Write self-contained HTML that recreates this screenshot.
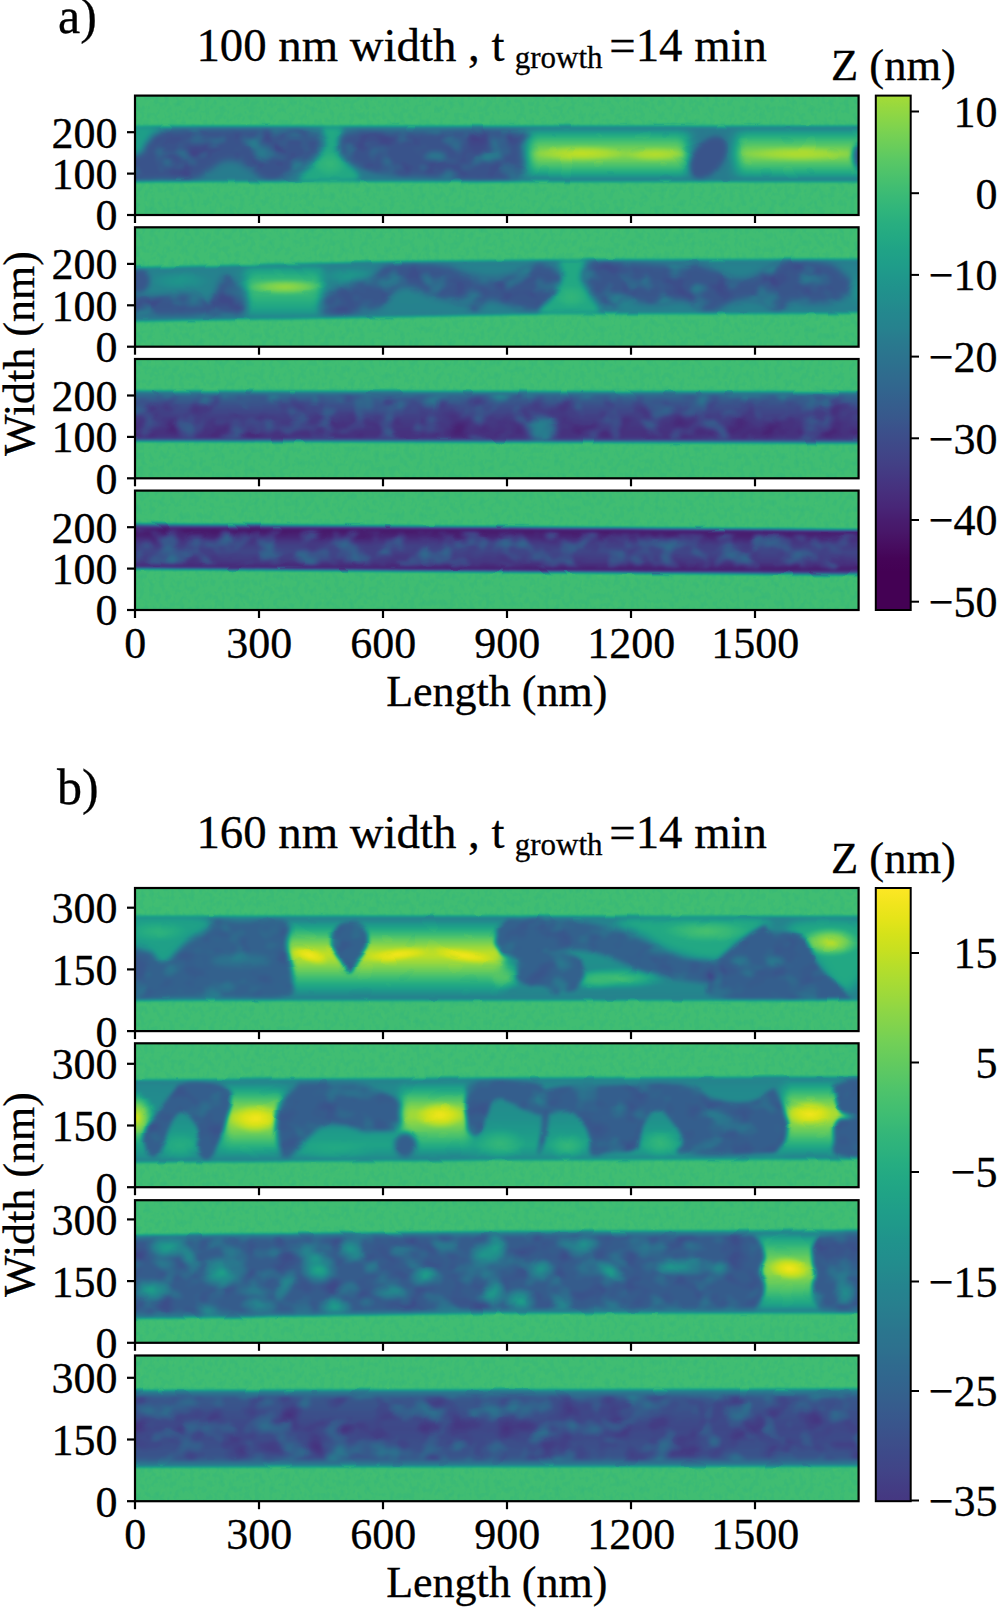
<!DOCTYPE html>
<html><head><meta charset="utf-8"><title>AFM nanowire figure</title>
<style>html,body{margin:0;padding:0;background:#fff}svg{display:block}text{font-family:'Liberation Serif','Times New Roman',serif;fill:#000;stroke:#000;stroke-width:0.3px}</style>
</head><body>
<svg width="1000" height="1611" viewBox="0 0 1000 1611">
<defs>
<filter id="vir" color-interpolation-filters="sRGB" x="-5%" y="-5%" width="110%" height="110%">
<feComponentTransfer><feFuncR type="table" tableValues="0.2670 0.2726 0.2770 0.2803 0.2823 0.2832 0.2829 0.2814 0.2788 0.2752 0.2706 0.2651 0.2590 0.2522 0.2450 0.2374 0.2278 0.2201 0.2124 0.2049 0.1976 0.1906 0.1839 0.1774 0.1712 0.1651 0.1592 0.1534 0.1476 0.1419 0.1364 0.1312 0.1254 0.1218 0.1197 0.1197 0.1223 0.1281 0.1373 0.1501 0.1664 0.1858 0.2080 0.2328 0.2599 0.2889 0.3198 0.3524 0.3952 0.4310 0.4681 0.5063 0.5455 0.5857 0.6266 0.6681 0.7099 0.7519 0.7938 0.8353 0.8762 0.9162 0.9553 0.9932"/><feFuncG type="table" tableValues="0.0049 0.0256 0.0503 0.0734 0.0950 0.1157 0.1359 0.1558 0.1755 0.1949 0.2141 0.2330 0.2515 0.2698 0.2877 0.3052 0.3266 0.3433 0.3597 0.3757 0.3915 0.4071 0.4224 0.4375 0.4525 0.4674 0.4822 0.4970 0.5117 0.5265 0.5412 0.5559 0.5743 0.5891 0.6038 0.6185 0.6332 0.6477 0.6623 0.6766 0.6909 0.7049 0.7187 0.7322 0.7455 0.7584 0.7709 0.7830 0.7975 0.8085 0.8189 0.8288 0.8380 0.8467 0.8546 0.8620 0.8688 0.8750 0.8807 0.8860 0.8911 0.8961 0.9011 0.9062"/><feFuncB type="table" tableValues="0.3294 0.3531 0.3757 0.3972 0.4173 0.4361 0.4534 0.4692 0.4834 0.4960 0.5071 0.5166 0.5247 0.5316 0.5373 0.5419 0.5465 0.5494 0.5517 0.5535 0.5550 0.5561 0.5569 0.5576 0.5580 0.5581 0.5581 0.5577 0.5570 0.5560 0.5545 0.5525 0.5491 0.5456 0.5414 0.5363 0.5304 0.5235 0.5156 0.5066 0.4965 0.4853 0.4729 0.4593 0.4445 0.4284 0.4112 0.3926 0.3678 0.3465 0.3240 0.3004 0.2756 0.2499 0.2234 0.1963 0.1693 0.1432 0.1200 0.1026 0.0953 0.1007 0.1181 0.1439"/></feComponentTransfer></filter>
<filter id="b0_7" color-interpolation-filters="sRGB" x="-50%" y="-50%" width="200%" height="200%"><feGaussianBlur stdDeviation="0.7"/></filter>
<filter id="b1" color-interpolation-filters="sRGB" x="-50%" y="-50%" width="200%" height="200%"><feGaussianBlur stdDeviation="1"/></filter>
<filter id="b1_5" color-interpolation-filters="sRGB" x="-50%" y="-50%" width="200%" height="200%"><feGaussianBlur stdDeviation="1.5"/></filter>
<filter id="b2" color-interpolation-filters="sRGB" x="-50%" y="-50%" width="200%" height="200%"><feGaussianBlur stdDeviation="2"/></filter>
<filter id="b3" color-interpolation-filters="sRGB" x="-50%" y="-50%" width="200%" height="200%"><feGaussianBlur stdDeviation="3"/></filter>
<filter id="b4" color-interpolation-filters="sRGB" x="-50%" y="-50%" width="200%" height="200%"><feGaussianBlur stdDeviation="4"/></filter>
<filter id="b6" color-interpolation-filters="sRGB" x="-50%" y="-50%" width="200%" height="200%"><feGaussianBlur stdDeviation="6"/></filter>
<filter id="b8" color-interpolation-filters="sRGB" x="-50%" y="-50%" width="200%" height="200%"><feGaussianBlur stdDeviation="8"/></filter>
<filter id="b12" color-interpolation-filters="sRGB" x="-50%" y="-50%" width="200%" height="200%"><feGaussianBlur stdDeviation="12"/></filter>
<filter id="bandf" color-interpolation-filters="sRGB" x="-2%" y="-20%" width="104%" height="140%"><feGaussianBlur stdDeviation="1.4" result="bl"/><feTurbulence type="fractalNoise" baseFrequency="0.045 0.07" numOctaves="1" seed="4" result="t"/><feDisplacementMap in="bl" in2="t" scale="3.2" xChannelSelector="R" yChannelSelector="G"/></filter>
<filter id="bx3" color-interpolation-filters="sRGB" x="-50%" y="-5%" width="200%" height="110%"><feGaussianBlur stdDeviation="3 0.6"/></filter>
<filter id="bx4" color-interpolation-filters="sRGB" x="-50%" y="-5%" width="200%" height="110%"><feGaussianBlur stdDeviation="4 0.6"/></filter>
<filter id="bx5" color-interpolation-filters="sRGB" x="-50%" y="-5%" width="200%" height="110%"><feGaussianBlur stdDeviation="5 0.6"/></filter>
<filter id="bx6" color-interpolation-filters="sRGB" x="-50%" y="-5%" width="200%" height="110%"><feGaussianBlur stdDeviation="6 0.6"/></filter>
<filter id="bx8" color-interpolation-filters="sRGB" x="-50%" y="-5%" width="200%" height="110%"><feGaussianBlur stdDeviation="8 0.6"/></filter>
<filter id="bx12" color-interpolation-filters="sRGB" x="-50%" y="-5%" width="200%" height="110%"><feGaussianBlur stdDeviation="12 0.6"/></filter>
<filter id="nDa" color-interpolation-filters="sRGB" x="0" y="0" width="1" height="1">
<feTurbulence type="fractalNoise" baseFrequency="0.045 0.055" numOctaves="2" seed="3" result="n"/>
<feColorMatrix in="n" type="matrix" values="0 0 0 0 0  0 0 0 0 0  0 0 0 0 0  0.6 0 0 0 -0.3" result="m"/>
<feComposite in="m" in2="SourceAlpha" operator="in"/></filter>
<filter id="nLa" color-interpolation-filters="sRGB" x="0" y="0" width="1" height="1">
<feTurbulence type="fractalNoise" baseFrequency="0.045 0.055" numOctaves="2" seed="11" result="n"/>
<feColorMatrix in="n" type="matrix" values="0 0 0 0 1  0 0 0 0 1  0 0 0 0 1  0 0.6 0 0 -0.3" result="m"/>
<feComposite in="m" in2="SourceAlpha" operator="in"/></filter>
<filter id="nDb" color-interpolation-filters="sRGB" x="0" y="0" width="1" height="1">
<feTurbulence type="fractalNoise" baseFrequency="0.04 0.05" numOctaves="2" seed="5" result="n"/>
<feColorMatrix in="n" type="matrix" values="0 0 0 0 0  0 0 0 0 0  0 0 0 0 0  0.5 0 0 0 -0.26" result="m"/>
<feComposite in="m" in2="SourceAlpha" operator="in"/></filter>
<filter id="nLb" color-interpolation-filters="sRGB" x="0" y="0" width="1" height="1">
<feTurbulence type="fractalNoise" baseFrequency="0.04 0.05" numOctaves="2" seed="17" result="n"/>
<feColorMatrix in="n" type="matrix" values="0 0 0 0 1  0 0 0 0 1  0 0 0 0 1  0 0.5 0 0 -0.27" result="m"/>
<feComposite in="m" in2="SourceAlpha" operator="in"/></filter>
<filter id="nDc" color-interpolation-filters="sRGB" x="0" y="0" width="1" height="1">
<feTurbulence type="fractalNoise" baseFrequency="0.045 0.055" numOctaves="2" seed="7" result="n"/>
<feColorMatrix in="n" type="matrix" values="0 0 0 0 0  0 0 0 0 0  0 0 0 0 0  1.1 0 0 0 -0.5" result="m"/>
<feComposite in="m" in2="SourceAlpha" operator="in"/></filter>
<filter id="nLc" color-interpolation-filters="sRGB" x="0" y="0" width="1" height="1">
<feTurbulence type="fractalNoise" baseFrequency="0.045 0.055" numOctaves="2" seed="19" result="n"/>
<feColorMatrix in="n" type="matrix" values="0 0 0 0 1  0 0 0 0 1  0 0 0 0 1  0 0.55 0 0 -0.27" result="m"/>
<feComposite in="m" in2="SourceAlpha" operator="in"/></filter>
<filter id="nDd" color-interpolation-filters="sRGB" x="0" y="0" width="1" height="1">
<feTurbulence type="fractalNoise" baseFrequency="0.04 0.05" numOctaves="2" seed="9" result="n"/>
<feColorMatrix in="n" type="matrix" values="0 0 0 0 0  0 0 0 0 0  0 0 0 0 0  0.7 0 0 0 -0.33" result="m"/>
<feComposite in="m" in2="SourceAlpha" operator="in"/></filter>
<filter id="nLd" color-interpolation-filters="sRGB" x="0" y="0" width="1" height="1">
<feTurbulence type="fractalNoise" baseFrequency="0.04 0.05" numOctaves="2" seed="23" result="n"/>
<feColorMatrix in="n" type="matrix" values="0 0 0 0 1  0 0 0 0 1  0 0 0 0 1  0 0.6 0 0 -0.29" result="m"/>
<feComposite in="m" in2="SourceAlpha" operator="in"/></filter>
<filter id="nDf" color-interpolation-filters="sRGB" x="0" y="0" width="1" height="1">
<feTurbulence type="fractalNoise" baseFrequency="0.05 0.06" numOctaves="2" seed="21" result="n"/>
<feColorMatrix in="n" type="matrix" values="0 0 0 0 0  0 0 0 0 0  0 0 0 0 0  0.6 0 0 0 -0.3" result="m"/>
<feComposite in="m" in2="SourceAlpha" operator="in"/></filter>
<filter id="nLf" color-interpolation-filters="sRGB" x="0" y="0" width="1" height="1">
<feTurbulence type="fractalNoise" baseFrequency="0.05 0.06" numOctaves="2" seed="31" result="n"/>
<feColorMatrix in="n" type="matrix" values="0 0 0 0 1  0 0 0 0 1  0 0 0 0 1  0 0.55 0 0 -0.25" result="m"/>
<feComposite in="m" in2="SourceAlpha" operator="in"/></filter>
<filter id="nDe" color-interpolation-filters="sRGB" x="0" y="0" width="1" height="1">
<feTurbulence type="fractalNoise" baseFrequency="0.04 0.05" numOctaves="2" seed="13" result="n"/>
<feColorMatrix in="n" type="matrix" values="0 0 0 0 0  0 0 0 0 0  0 0 0 0 0  1.0 0 0 0 -0.46" result="m"/>
<feComposite in="m" in2="SourceAlpha" operator="in"/></filter>
<filter id="nLe" color-interpolation-filters="sRGB" x="0" y="0" width="1" height="1">
<feTurbulence type="fractalNoise" baseFrequency="0.04 0.05" numOctaves="2" seed="29" result="n"/>
<feColorMatrix in="n" type="matrix" values="0 0 0 0 1  0 0 0 0 1  0 0 0 0 1  0 0.6 0 0 -0.3" result="m"/>
<feComposite in="m" in2="SourceAlpha" operator="in"/></filter>
<filter id="nF" color-interpolation-filters="sRGB" x="0" y="0" width="1" height="1">
<feTurbulence type="fractalNoise" baseFrequency="0.2 0.15" numOctaves="2" seed="7" result="n"/>
<feColorMatrix in="n" type="matrix" values="0 0 0 0 1  0 0 0 0 1  0 0 0 0 1  0.06 0 0 0 -0.027" result="m"/>
<feComposite in="m" in2="SourceAlpha" operator="in"/></filter>
<filter id="nFd" color-interpolation-filters="sRGB" x="0" y="0" width="1" height="1">
<feTurbulence type="fractalNoise" baseFrequency="0.2 0.15" numOctaves="2" seed="9" result="n"/>
<feColorMatrix in="n" type="matrix" values="0 0 0 0 0  0 0 0 0 0  0 0 0 0 0  0 0.06 0 0 -0.027" result="m"/>
<feComposite in="m" in2="SourceAlpha" operator="in"/></filter>
<radialGradient id="g1"><stop offset="0" stop-color="rgb(173,173,173)" stop-opacity="0.9"/><stop offset="0.5" stop-color="rgb(173,173,173)" stop-opacity="0.54"/><stop offset="1" stop-color="rgb(173,173,173)" stop-opacity="0"/></radialGradient>
<linearGradient id="g2" x1="0" y1="0" x2="0" y2="1"><stop offset="0.0" stop-color="rgb(110,110,110)"/><stop offset="0.05" stop-color="rgb(119,119,119)"/><stop offset="0.15" stop-color="rgb(152,152,152)"/><stop offset="0.275" stop-color="rgb(180,180,180)"/><stop offset="0.39" stop-color="rgb(198,198,198)"/><stop offset="0.46" stop-color="rgb(207,207,207)"/><stop offset="0.5" stop-color="rgb(209,209,209)"/><stop offset="0.54" stop-color="rgb(207,207,207)"/><stop offset="0.61" stop-color="rgb(198,198,198)"/><stop offset="0.725" stop-color="rgb(180,180,180)"/><stop offset="0.85" stop-color="rgb(152,152,152)"/><stop offset="0.95" stop-color="rgb(119,119,119)"/><stop offset="1.0" stop-color="rgb(110,110,110)"/></linearGradient>
<radialGradient id="g3"><stop offset="0" stop-color="rgb(237,237,237)" stop-opacity="0.85"/><stop offset="0.5" stop-color="rgb(237,237,237)" stop-opacity="0.51"/><stop offset="1" stop-color="rgb(237,237,237)" stop-opacity="0"/></radialGradient>
<radialGradient id="g4"><stop offset="0" stop-color="rgb(232,232,232)" stop-opacity="0.8"/><stop offset="0.5" stop-color="rgb(232,232,232)" stop-opacity="0.48"/><stop offset="1" stop-color="rgb(232,232,232)" stop-opacity="0"/></radialGradient>
<linearGradient id="g5" x1="0" y1="0" x2="0" y2="1"><stop offset="0.0" stop-color="rgb(110,110,110)"/><stop offset="0.05" stop-color="rgb(119,119,119)"/><stop offset="0.15" stop-color="rgb(151,151,151)"/><stop offset="0.275" stop-color="rgb(178,178,178)"/><stop offset="0.39" stop-color="rgb(196,196,196)"/><stop offset="0.46" stop-color="rgb(204,204,204)"/><stop offset="0.5" stop-color="rgb(207,207,207)"/><stop offset="0.54" stop-color="rgb(204,204,204)"/><stop offset="0.61" stop-color="rgb(196,196,196)"/><stop offset="0.725" stop-color="rgb(178,178,178)"/><stop offset="0.85" stop-color="rgb(151,151,151)"/><stop offset="0.95" stop-color="rgb(119,119,119)"/><stop offset="1.0" stop-color="rgb(110,110,110)"/></linearGradient>
<radialGradient id="g6"><stop offset="0" stop-color="rgb(230,230,230)" stop-opacity="0.85"/><stop offset="0.5" stop-color="rgb(230,230,230)" stop-opacity="0.51"/><stop offset="1" stop-color="rgb(230,230,230)" stop-opacity="0"/></radialGradient>
<clipPath id="cpa1"><rect x="135.0" y="95.6" width="723.6" height="119.4"/></clipPath>
<clipPath id="bca1"><polygon points="115.0,126.2 878.6,126.2 878.6,181.5 115.0,181.5"/></clipPath>
<linearGradient id="g7" x1="0" y1="0" x2="0" y2="1"><stop offset="0" stop-color="rgb(107,107,107)"/><stop offset="0.15" stop-color="rgb(105,105,105)"/><stop offset="0.5" stop-color="rgb(107,107,107)"/><stop offset="0.85" stop-color="rgb(107,107,107)"/><stop offset="1" stop-color="rgb(107,107,107)"/></linearGradient>
<radialGradient id="g8"><stop offset="0" stop-color="rgb(140,140,140)" stop-opacity="0.8"/><stop offset="0.5" stop-color="rgb(140,140,140)" stop-opacity="0.48"/><stop offset="1" stop-color="rgb(140,140,140)" stop-opacity="0"/></radialGradient>
<radialGradient id="g9"><stop offset="0" stop-color="rgb(143,143,143)" stop-opacity="0.8"/><stop offset="0.5" stop-color="rgb(143,143,143)" stop-opacity="0.48"/><stop offset="1" stop-color="rgb(143,143,143)" stop-opacity="0"/></radialGradient>
<linearGradient id="g10" x1="0" y1="0" x2="0" y2="1"><stop offset="0.0" stop-color="rgb(115,115,115)"/><stop offset="0.04" stop-color="rgb(122,122,122)"/><stop offset="0.12" stop-color="rgb(144,144,144)"/><stop offset="0.22" stop-color="rgb(161,161,161)"/><stop offset="0.312" stop-color="rgb(172,172,172)"/><stop offset="0.368" stop-color="rgb(177,177,177)"/><stop offset="0.4" stop-color="rgb(178,178,178)"/><stop offset="0.448" stop-color="rgb(177,177,177)"/><stop offset="0.532" stop-color="rgb(172,172,172)"/><stop offset="0.67" stop-color="rgb(161,161,161)"/><stop offset="0.82" stop-color="rgb(144,144,144)"/><stop offset="0.94" stop-color="rgb(122,122,122)"/><stop offset="1.0" stop-color="rgb(115,115,115)"/></linearGradient>
<radialGradient id="g11"><stop offset="0" stop-color="rgb(224,224,224)" stop-opacity="0.85"/><stop offset="0.5" stop-color="rgb(224,224,224)" stop-opacity="0.51"/><stop offset="1" stop-color="rgb(224,224,224)" stop-opacity="0"/></radialGradient>
<radialGradient id="g12"><stop offset="0" stop-color="rgb(171,171,171)" stop-opacity="0.9"/><stop offset="0.5" stop-color="rgb(171,171,171)" stop-opacity="0.54"/><stop offset="1" stop-color="rgb(171,171,171)" stop-opacity="0"/></radialGradient>
<radialGradient id="g13"><stop offset="0" stop-color="rgb(133,133,133)" stop-opacity="0.8"/><stop offset="0.5" stop-color="rgb(133,133,133)" stop-opacity="0.48"/><stop offset="1" stop-color="rgb(133,133,133)" stop-opacity="0"/></radialGradient>
<clipPath id="cpa2"><rect x="135.0" y="227.3" width="723.6" height="119.39999999999998"/></clipPath>
<clipPath id="bca2"><polygon points="115.0,268.0 380.0,262.0 560.0,259.7 878.6,259.3 878.6,313.2 560.0,313.8 380.0,317.0 115.0,321.5"/></clipPath>
<linearGradient id="g14" x1="0" y1="0" x2="0" y2="1"><stop offset="0" stop-color="rgb(110,110,110)"/><stop offset="0.15" stop-color="rgb(112,112,112)"/><stop offset="0.5" stop-color="rgb(115,115,115)"/><stop offset="0.85" stop-color="rgb(112,112,112)"/><stop offset="1" stop-color="rgb(110,110,110)"/></linearGradient>
<clipPath id="cpa3"><rect x="135.0" y="359.0" width="723.6" height="119.30000000000001"/></clipPath>
<clipPath id="bca3"><polygon points="115.0,391.0 878.6,392.0 878.6,443.0 115.0,441.0"/></clipPath>
<linearGradient id="g15" x1="0" y1="0" x2="0" y2="1"><stop offset="0" stop-color="rgb(102,102,102)"/><stop offset="0.1" stop-color="rgb(84,84,84)"/><stop offset="0.25" stop-color="rgb(64,64,64)"/><stop offset="0.5" stop-color="rgb(48,48,48)"/><stop offset="0.8" stop-color="rgb(36,36,36)"/><stop offset="0.93" stop-color="rgb(41,41,41)"/><stop offset="1" stop-color="rgb(87,87,87)"/></linearGradient>
<clipPath id="cpa4"><rect x="135.0" y="490.6" width="723.6" height="119.39999999999998"/></clipPath>
<clipPath id="bca4"><polygon points="115.0,524.0 878.6,530.0 878.6,575.0 115.0,568.5"/></clipPath>
<linearGradient id="g16" x1="0" y1="0" x2="0" y2="1"><stop offset="0" stop-color="rgb(76,76,76)"/><stop offset="0.1" stop-color="rgb(15,15,15)"/><stop offset="0.22" stop-color="rgb(23,23,23)"/><stop offset="0.4" stop-color="rgb(48,48,48)"/><stop offset="0.55" stop-color="rgb(54,54,54)"/><stop offset="0.75" stop-color="rgb(41,41,41)"/><stop offset="0.9" stop-color="rgb(18,18,18)"/><stop offset="1" stop-color="rgb(71,71,71)"/></linearGradient>
<linearGradient id="g17" x1="0" y1="0" x2="0" y2="1"><stop offset="0.0" stop-color="rgb(112,112,112)"/><stop offset="0.045" stop-color="rgb(117,117,117)"/><stop offset="0.135" stop-color="rgb(149,149,149)"/><stop offset="0.2475" stop-color="rgb(185,185,185)"/><stop offset="0.351" stop-color="rgb(212,212,212)"/><stop offset="0.414" stop-color="rgb(226,226,226)"/><stop offset="0.45" stop-color="rgb(230,230,230)"/><stop offset="0.494" stop-color="rgb(226,226,226)"/><stop offset="0.571" stop-color="rgb(212,212,212)"/><stop offset="0.6975" stop-color="rgb(185,185,185)"/><stop offset="0.835" stop-color="rgb(149,149,149)"/><stop offset="0.945" stop-color="rgb(117,117,117)"/><stop offset="1.0" stop-color="rgb(112,112,112)"/></linearGradient>
<radialGradient id="g18"><stop offset="0" stop-color="rgb(255,255,255)" stop-opacity="0.9"/><stop offset="0.5" stop-color="rgb(255,255,255)" stop-opacity="0.54"/><stop offset="1" stop-color="rgb(255,255,255)" stop-opacity="0"/></radialGradient>
<radialGradient id="g19"><stop offset="0" stop-color="rgb(255,255,255)" stop-opacity="0.9"/><stop offset="0.5" stop-color="rgb(255,255,255)" stop-opacity="0.54"/><stop offset="1" stop-color="rgb(255,255,255)" stop-opacity="0"/></radialGradient>
<radialGradient id="g20"><stop offset="0" stop-color="rgb(255,255,255)" stop-opacity="0.9"/><stop offset="0.5" stop-color="rgb(255,255,255)" stop-opacity="0.54"/><stop offset="1" stop-color="rgb(255,255,255)" stop-opacity="0"/></radialGradient>
<radialGradient id="g21"><stop offset="0" stop-color="rgb(194,194,194)" stop-opacity="0.9"/><stop offset="0.5" stop-color="rgb(194,194,194)" stop-opacity="0.54"/><stop offset="1" stop-color="rgb(194,194,194)" stop-opacity="0"/></radialGradient>
<radialGradient id="g22"><stop offset="0" stop-color="rgb(168,168,168)" stop-opacity="0.9"/><stop offset="0.5" stop-color="rgb(168,168,168)" stop-opacity="0.54"/><stop offset="1" stop-color="rgb(168,168,168)" stop-opacity="0"/></radialGradient>
<radialGradient id="g23"><stop offset="0" stop-color="rgb(189,189,189)" stop-opacity="0.9"/><stop offset="0.5" stop-color="rgb(189,189,189)" stop-opacity="0.54"/><stop offset="1" stop-color="rgb(189,189,189)" stop-opacity="0"/></radialGradient>
<radialGradient id="g24"><stop offset="0" stop-color="rgb(178,178,178)" stop-opacity="0.9"/><stop offset="0.5" stop-color="rgb(178,178,178)" stop-opacity="0.54"/><stop offset="1" stop-color="rgb(178,178,178)" stop-opacity="0"/></radialGradient>
<radialGradient id="g25"><stop offset="0" stop-color="rgb(184,184,184)" stop-opacity="0.95"/><stop offset="0.5" stop-color="rgb(184,184,184)" stop-opacity="0.57"/><stop offset="1" stop-color="rgb(184,184,184)" stop-opacity="0"/></radialGradient>
<radialGradient id="g26"><stop offset="0" stop-color="rgb(235,235,235)" stop-opacity="0.95"/><stop offset="0.5" stop-color="rgb(235,235,235)" stop-opacity="0.57"/><stop offset="1" stop-color="rgb(235,235,235)" stop-opacity="0"/></radialGradient>
<clipPath id="cpb1"><rect x="135.0" y="888.0" width="723.6" height="143.0999999999999"/></clipPath>
<clipPath id="bcb1"><polygon points="115.0,916.3 878.6,916.3 878.6,1000.3 115.0,1000.3"/></clipPath>
<linearGradient id="g27" x1="0" y1="0" x2="0" y2="1"><stop offset="0" stop-color="rgb(112,112,112)"/><stop offset="0.12" stop-color="rgb(117,117,117)"/><stop offset="0.5" stop-color="rgb(128,128,128)"/><stop offset="0.88" stop-color="rgb(117,117,117)"/><stop offset="1" stop-color="rgb(112,112,112)"/></linearGradient>
<radialGradient id="g28"><stop offset="0" stop-color="rgb(250,250,250)" stop-opacity="0.95"/><stop offset="0.5" stop-color="rgb(250,250,250)" stop-opacity="0.57"/><stop offset="1" stop-color="rgb(250,250,250)" stop-opacity="0"/></radialGradient>
<linearGradient id="g29" x1="0" y1="0" x2="0" y2="1"><stop offset="0.0" stop-color="rgb(115,115,115)"/><stop offset="0.046" stop-color="rgb(122,122,122)"/><stop offset="0.138" stop-color="rgb(155,155,155)"/><stop offset="0.253" stop-color="rgb(188,188,188)"/><stop offset="0.3588" stop-color="rgb(210,210,210)"/><stop offset="0.4232" stop-color="rgb(222,222,222)"/><stop offset="0.46" stop-color="rgb(224,224,224)"/><stop offset="0.5032" stop-color="rgb(222,222,222)"/><stop offset="0.5788" stop-color="rgb(210,210,210)"/><stop offset="0.703" stop-color="rgb(188,188,188)"/><stop offset="0.838" stop-color="rgb(155,155,155)"/><stop offset="0.946" stop-color="rgb(122,122,122)"/><stop offset="1.0" stop-color="rgb(115,115,115)"/></linearGradient>
<radialGradient id="g30"><stop offset="0" stop-color="rgb(255,255,255)" stop-opacity="0.9"/><stop offset="0.5" stop-color="rgb(255,255,255)" stop-opacity="0.54"/><stop offset="1" stop-color="rgb(255,255,255)" stop-opacity="0"/></radialGradient>
<linearGradient id="g31" x1="0" y1="0" x2="0" y2="1"><stop offset="0.0" stop-color="rgb(115,115,115)"/><stop offset="0.043" stop-color="rgb(121,121,121)"/><stop offset="0.129" stop-color="rgb(153,153,153)"/><stop offset="0.2365" stop-color="rgb(184,184,184)"/><stop offset="0.3354" stop-color="rgb(206,206,206)"/><stop offset="0.3956" stop-color="rgb(217,217,217)"/><stop offset="0.43" stop-color="rgb(219,219,219)"/><stop offset="0.4756" stop-color="rgb(217,217,217)"/><stop offset="0.5554" stop-color="rgb(206,206,206)"/><stop offset="0.6865" stop-color="rgb(184,184,184)"/><stop offset="0.829" stop-color="rgb(153,153,153)"/><stop offset="0.943" stop-color="rgb(121,121,121)"/><stop offset="1.0" stop-color="rgb(115,115,115)"/></linearGradient>
<radialGradient id="g32"><stop offset="0" stop-color="rgb(255,255,255)" stop-opacity="0.9"/><stop offset="0.5" stop-color="rgb(255,255,255)" stop-opacity="0.54"/><stop offset="1" stop-color="rgb(255,255,255)" stop-opacity="0"/></radialGradient>
<linearGradient id="g33" x1="0" y1="0" x2="0" y2="1"><stop offset="0.0" stop-color="rgb(115,115,115)"/><stop offset="0.044" stop-color="rgb(122,122,122)"/><stop offset="0.132" stop-color="rgb(155,155,155)"/><stop offset="0.242" stop-color="rgb(188,188,188)"/><stop offset="0.3432" stop-color="rgb(210,210,210)"/><stop offset="0.4048" stop-color="rgb(222,222,222)"/><stop offset="0.44" stop-color="rgb(224,224,224)"/><stop offset="0.4848" stop-color="rgb(222,222,222)"/><stop offset="0.5632" stop-color="rgb(210,210,210)"/><stop offset="0.692" stop-color="rgb(188,188,188)"/><stop offset="0.832" stop-color="rgb(155,155,155)"/><stop offset="0.944" stop-color="rgb(122,122,122)"/><stop offset="1.0" stop-color="rgb(115,115,115)"/></linearGradient>
<radialGradient id="g34"><stop offset="0" stop-color="rgb(255,255,255)" stop-opacity="0.9"/><stop offset="0.5" stop-color="rgb(255,255,255)" stop-opacity="0.54"/><stop offset="1" stop-color="rgb(255,255,255)" stop-opacity="0"/></radialGradient>
<radialGradient id="g35"><stop offset="0" stop-color="rgb(163,163,163)" stop-opacity="0.8"/><stop offset="0.5" stop-color="rgb(163,163,163)" stop-opacity="0.48"/><stop offset="1" stop-color="rgb(163,163,163)" stop-opacity="0"/></radialGradient>
<radialGradient id="g36"><stop offset="0" stop-color="rgb(158,158,158)" stop-opacity="0.8"/><stop offset="0.5" stop-color="rgb(158,158,158)" stop-opacity="0.48"/><stop offset="1" stop-color="rgb(158,158,158)" stop-opacity="0"/></radialGradient>
<radialGradient id="g37"><stop offset="0" stop-color="rgb(173,173,173)" stop-opacity="0.9"/><stop offset="0.5" stop-color="rgb(173,173,173)" stop-opacity="0.54"/><stop offset="1" stop-color="rgb(173,173,173)" stop-opacity="0"/></radialGradient>
<radialGradient id="g38"><stop offset="0" stop-color="rgb(173,173,173)" stop-opacity="0.9"/><stop offset="0.5" stop-color="rgb(173,173,173)" stop-opacity="0.54"/><stop offset="1" stop-color="rgb(173,173,173)" stop-opacity="0"/></radialGradient>
<radialGradient id="g39"><stop offset="0" stop-color="rgb(173,173,173)" stop-opacity="0.9"/><stop offset="0.5" stop-color="rgb(173,173,173)" stop-opacity="0.54"/><stop offset="1" stop-color="rgb(173,173,173)" stop-opacity="0"/></radialGradient>
<clipPath id="cpb2"><rect x="135.0" y="1043.3" width="723.6" height="143.9000000000001"/></clipPath>
<clipPath id="bcb2"><polygon points="115.0,1080.0 500.0,1078.0 878.6,1077.0 878.6,1159.0 500.0,1160.0 115.0,1162.3"/></clipPath>
<linearGradient id="g40" x1="0" y1="0" x2="0" y2="1"><stop offset="0" stop-color="rgb(112,112,112)"/><stop offset="0.12" stop-color="rgb(120,120,120)"/><stop offset="0.5" stop-color="rgb(128,128,128)"/><stop offset="0.8" stop-color="rgb(148,148,148)"/><stop offset="0.93" stop-color="rgb(128,128,128)"/><stop offset="1" stop-color="rgb(112,112,112)"/></linearGradient>
<linearGradient id="g41" x1="0" y1="0" x2="0" y2="1"><stop offset="0.0" stop-color="rgb(115,115,115)"/><stop offset="0.047" stop-color="rgb(123,123,123)"/><stop offset="0.141" stop-color="rgb(154,154,154)"/><stop offset="0.2585" stop-color="rgb(183,183,183)"/><stop offset="0.3666" stop-color="rgb(202,202,202)"/><stop offset="0.4324" stop-color="rgb(212,212,212)"/><stop offset="0.47" stop-color="rgb(214,214,214)"/><stop offset="0.5124" stop-color="rgb(212,212,212)"/><stop offset="0.5866" stop-color="rgb(202,202,202)"/><stop offset="0.7085" stop-color="rgb(183,183,183)"/><stop offset="0.841" stop-color="rgb(154,154,154)"/><stop offset="0.947" stop-color="rgb(123,123,123)"/><stop offset="1.0" stop-color="rgb(115,115,115)"/></linearGradient>
<radialGradient id="g42"><stop offset="0" stop-color="rgb(255,255,255)" stop-opacity="0.95"/><stop offset="0.5" stop-color="rgb(255,255,255)" stop-opacity="0.57"/><stop offset="1" stop-color="rgb(255,255,255)" stop-opacity="0"/></radialGradient>
<radialGradient id="g43"><stop offset="0" stop-color="rgb(145,145,145)" stop-opacity="0.97"/><stop offset="0.5" stop-color="rgb(145,145,145)" stop-opacity="0.582"/><stop offset="1" stop-color="rgb(145,145,145)" stop-opacity="0"/></radialGradient>
<radialGradient id="g44"><stop offset="0" stop-color="rgb(153,153,153)" stop-opacity="0.97"/><stop offset="0.5" stop-color="rgb(153,153,153)" stop-opacity="0.582"/><stop offset="1" stop-color="rgb(153,153,153)" stop-opacity="0"/></radialGradient>
<radialGradient id="g45"><stop offset="0" stop-color="rgb(145,145,145)" stop-opacity="0.97"/><stop offset="0.5" stop-color="rgb(145,145,145)" stop-opacity="0.582"/><stop offset="1" stop-color="rgb(145,145,145)" stop-opacity="0"/></radialGradient>
<radialGradient id="g46"><stop offset="0" stop-color="rgb(150,150,150)" stop-opacity="0.97"/><stop offset="0.5" stop-color="rgb(150,150,150)" stop-opacity="0.582"/><stop offset="1" stop-color="rgb(150,150,150)" stop-opacity="0"/></radialGradient>
<radialGradient id="g47"><stop offset="0" stop-color="rgb(140,140,140)" stop-opacity="0.97"/><stop offset="0.5" stop-color="rgb(140,140,140)" stop-opacity="0.582"/><stop offset="1" stop-color="rgb(140,140,140)" stop-opacity="0"/></radialGradient>
<radialGradient id="g48"><stop offset="0" stop-color="rgb(145,145,145)" stop-opacity="0.97"/><stop offset="0.5" stop-color="rgb(145,145,145)" stop-opacity="0.582"/><stop offset="1" stop-color="rgb(145,145,145)" stop-opacity="0"/></radialGradient>
<radialGradient id="g49"><stop offset="0" stop-color="rgb(145,145,145)" stop-opacity="0.97"/><stop offset="0.5" stop-color="rgb(145,145,145)" stop-opacity="0.582"/><stop offset="1" stop-color="rgb(145,145,145)" stop-opacity="0"/></radialGradient>
<radialGradient id="g50"><stop offset="0" stop-color="rgb(135,135,135)" stop-opacity="0.97"/><stop offset="0.5" stop-color="rgb(135,135,135)" stop-opacity="0.582"/><stop offset="1" stop-color="rgb(135,135,135)" stop-opacity="0"/></radialGradient>
<radialGradient id="g51"><stop offset="0" stop-color="rgb(140,140,140)" stop-opacity="0.97"/><stop offset="0.5" stop-color="rgb(140,140,140)" stop-opacity="0.582"/><stop offset="1" stop-color="rgb(140,140,140)" stop-opacity="0"/></radialGradient>
<radialGradient id="g52"><stop offset="0" stop-color="rgb(140,140,140)" stop-opacity="0.97"/><stop offset="0.5" stop-color="rgb(140,140,140)" stop-opacity="0.582"/><stop offset="1" stop-color="rgb(140,140,140)" stop-opacity="0"/></radialGradient>
<radialGradient id="g53"><stop offset="0" stop-color="rgb(128,128,128)" stop-opacity="0.82"/><stop offset="0.5" stop-color="rgb(128,128,128)" stop-opacity="0.49199999999999994"/><stop offset="1" stop-color="rgb(128,128,128)" stop-opacity="0"/></radialGradient>
<radialGradient id="g54"><stop offset="0" stop-color="rgb(128,128,128)" stop-opacity="0.82"/><stop offset="0.5" stop-color="rgb(128,128,128)" stop-opacity="0.49199999999999994"/><stop offset="1" stop-color="rgb(128,128,128)" stop-opacity="0"/></radialGradient>
<radialGradient id="g55"><stop offset="0" stop-color="rgb(128,128,128)" stop-opacity="0.82"/><stop offset="0.5" stop-color="rgb(128,128,128)" stop-opacity="0.49199999999999994"/><stop offset="1" stop-color="rgb(128,128,128)" stop-opacity="0"/></radialGradient>
<radialGradient id="g56"><stop offset="0" stop-color="rgb(145,145,145)" stop-opacity="0.97"/><stop offset="0.5" stop-color="rgb(145,145,145)" stop-opacity="0.582"/><stop offset="1" stop-color="rgb(145,145,145)" stop-opacity="0"/></radialGradient>
<radialGradient id="g57"><stop offset="0" stop-color="rgb(145,145,145)" stop-opacity="0.97"/><stop offset="0.5" stop-color="rgb(145,145,145)" stop-opacity="0.582"/><stop offset="1" stop-color="rgb(145,145,145)" stop-opacity="0"/></radialGradient>
<radialGradient id="g58"><stop offset="0" stop-color="rgb(135,135,135)" stop-opacity="0.97"/><stop offset="0.5" stop-color="rgb(135,135,135)" stop-opacity="0.582"/><stop offset="1" stop-color="rgb(135,135,135)" stop-opacity="0"/></radialGradient>
<radialGradient id="g59"><stop offset="0" stop-color="rgb(130,130,130)" stop-opacity="0.92"/><stop offset="0.5" stop-color="rgb(130,130,130)" stop-opacity="0.552"/><stop offset="1" stop-color="rgb(130,130,130)" stop-opacity="0"/></radialGradient>
<radialGradient id="g60"><stop offset="0" stop-color="rgb(135,135,135)" stop-opacity="0.92"/><stop offset="0.5" stop-color="rgb(135,135,135)" stop-opacity="0.552"/><stop offset="1" stop-color="rgb(135,135,135)" stop-opacity="0"/></radialGradient>
<radialGradient id="g61"><stop offset="0" stop-color="rgb(128,128,128)" stop-opacity="0.82"/><stop offset="0.5" stop-color="rgb(128,128,128)" stop-opacity="0.49199999999999994"/><stop offset="1" stop-color="rgb(128,128,128)" stop-opacity="0"/></radialGradient>
<radialGradient id="g62"><stop offset="0" stop-color="rgb(133,133,133)" stop-opacity="0.92"/><stop offset="0.5" stop-color="rgb(133,133,133)" stop-opacity="0.552"/><stop offset="1" stop-color="rgb(133,133,133)" stop-opacity="0"/></radialGradient>
<clipPath id="cpb3"><rect x="135.0" y="1200.2" width="723.6" height="142.5999999999999"/></clipPath>
<clipPath id="bcb3"><polygon points="115.0,1236.0 500.0,1231.4 878.6,1230.5 878.6,1313.0 500.0,1313.0 115.0,1318.5"/></clipPath>
<linearGradient id="g63" x1="0" y1="0" x2="0" y2="1"><stop offset="0" stop-color="rgb(112,112,112)"/><stop offset="0.13" stop-color="rgb(102,102,102)"/><stop offset="0.5" stop-color="rgb(102,102,102)"/><stop offset="0.87" stop-color="rgb(102,102,102)"/><stop offset="1" stop-color="rgb(112,112,112)"/></linearGradient>
<clipPath id="cpb4"><rect x="135.0" y="1355.5" width="723.6" height="145.70000000000005"/></clipPath>
<clipPath id="bcb4"><polygon points="115.0,1390.5 878.6,1389.0 878.6,1466.0 115.0,1467.0"/></clipPath>
<linearGradient id="g64" x1="0" y1="0" x2="0" y2="1"><stop offset="0" stop-color="rgb(107,107,107)"/><stop offset="0.13" stop-color="rgb(69,69,69)"/><stop offset="0.5" stop-color="rgb(55,55,55)"/><stop offset="0.87" stop-color="rgb(66,66,66)"/><stop offset="1" stop-color="rgb(107,107,107)"/></linearGradient>
<linearGradient id="g65" x1="0" y1="0" x2="0" y2="1"><stop offset="0.0000" stop-color="#a5db36"/><stop offset="0.0250" stop-color="#95d840"/><stop offset="0.0500" stop-color="#86d549"/><stop offset="0.0750" stop-color="#77d153"/><stop offset="0.1000" stop-color="#69cd5b"/><stop offset="0.1250" stop-color="#5ac864"/><stop offset="0.1500" stop-color="#4ec36b"/><stop offset="0.1750" stop-color="#42be71"/><stop offset="0.2000" stop-color="#38b977"/><stop offset="0.2250" stop-color="#2fb47c"/><stop offset="0.2500" stop-color="#28ae80"/><stop offset="0.2750" stop-color="#23a983"/><stop offset="0.3000" stop-color="#20a386"/><stop offset="0.3250" stop-color="#1f9e89"/><stop offset="0.3500" stop-color="#1f988b"/><stop offset="0.3750" stop-color="#20928c"/><stop offset="0.4000" stop-color="#228d8d"/><stop offset="0.4250" stop-color="#24878e"/><stop offset="0.4500" stop-color="#26828e"/><stop offset="0.4750" stop-color="#297b8e"/><stop offset="0.5000" stop-color="#2b758e"/><stop offset="0.5250" stop-color="#2d708e"/><stop offset="0.5500" stop-color="#306a8e"/><stop offset="0.5750" stop-color="#32648e"/><stop offset="0.6000" stop-color="#355e8d"/><stop offset="0.6250" stop-color="#38588c"/><stop offset="0.6500" stop-color="#3b518b"/><stop offset="0.6750" stop-color="#3e4a89"/><stop offset="0.7000" stop-color="#414487"/><stop offset="0.7250" stop-color="#433d84"/><stop offset="0.7500" stop-color="#453581"/><stop offset="0.7750" stop-color="#472e7c"/><stop offset="0.8000" stop-color="#482677"/><stop offset="0.8250" stop-color="#481d6f"/><stop offset="0.8500" stop-color="#481668"/><stop offset="0.8750" stop-color="#470d60"/><stop offset="0.9000" stop-color="#450457"/><stop offset="0.9250" stop-color="#440154"/><stop offset="0.9500" stop-color="#440154"/><stop offset="0.9750" stop-color="#440154"/><stop offset="1.0000" stop-color="#440154"/></linearGradient>
<linearGradient id="g66" x1="0" y1="0" x2="0" y2="1"><stop offset="0.0000" stop-color="#fde725"/><stop offset="0.0250" stop-color="#f1e51d"/><stop offset="0.0500" stop-color="#e5e419"/><stop offset="0.0750" stop-color="#d5e21a"/><stop offset="0.1000" stop-color="#c8e020"/><stop offset="0.1250" stop-color="#b8de29"/><stop offset="0.1500" stop-color="#aadc32"/><stop offset="0.1750" stop-color="#9dd93b"/><stop offset="0.2000" stop-color="#8ed645"/><stop offset="0.2250" stop-color="#81d34d"/><stop offset="0.2500" stop-color="#73d056"/><stop offset="0.2750" stop-color="#67cc5c"/><stop offset="0.3000" stop-color="#5cc863"/><stop offset="0.3250" stop-color="#50c46a"/><stop offset="0.3500" stop-color="#46c06f"/><stop offset="0.3750" stop-color="#3dbc74"/><stop offset="0.4000" stop-color="#34b679"/><stop offset="0.4250" stop-color="#2db27d"/><stop offset="0.4500" stop-color="#26ad81"/><stop offset="0.4750" stop-color="#22a884"/><stop offset="0.5000" stop-color="#20a386"/><stop offset="0.5250" stop-color="#1f9e89"/><stop offset="0.5500" stop-color="#1f998a"/><stop offset="0.5750" stop-color="#20938c"/><stop offset="0.6000" stop-color="#218f8d"/><stop offset="0.6250" stop-color="#238a8d"/><stop offset="0.6500" stop-color="#25848e"/><stop offset="0.6750" stop-color="#27808e"/><stop offset="0.7000" stop-color="#297b8e"/><stop offset="0.7250" stop-color="#2b758e"/><stop offset="0.7500" stop-color="#2d718e"/><stop offset="0.7750" stop-color="#2f6b8e"/><stop offset="0.8000" stop-color="#31668e"/><stop offset="0.8250" stop-color="#34618d"/><stop offset="0.8500" stop-color="#375b8d"/><stop offset="0.8750" stop-color="#39558c"/><stop offset="0.9000" stop-color="#3c4f8a"/><stop offset="0.9250" stop-color="#3e4989"/><stop offset="0.9500" stop-color="#414487"/><stop offset="0.9750" stop-color="#433d84"/><stop offset="1.0000" stop-color="#453781"/></linearGradient>
</defs>
<rect width="1000" height="1611" fill="#fff"/>
<g clip-path="url(#cpa1)"><g filter="url(#vir)">
<rect x="105.0" y="65.6" width="783.6" height="179.4" fill="rgb(177,177,177)"/>
<rect x="135.0" y="95.6" width="723.6" height="119.4" fill="#fff" filter="url(#nF)"/>
<rect x="135.0" y="95.6" width="723.6" height="119.4" fill="#000" filter="url(#nFd)"/>
<g filter="url(#bandf)"><g clip-path="url(#bca1)">
<polygon points="115.0,126.2 878.6,126.2 878.6,181.5 115.0,181.5" fill="url(#g7)"/>
<path d="M100.0,126.0C110.2,120.1 153.5,125.1 161.2,128.5C169.0,131.9 150.4,141.4 146.2,146.2C142.1,151.1 144.0,154.5 136.2,157.5C128.5,160.5 106.0,169.2 100.0,164.0C94.0,158.8 89.8,131.9 100.0,126.0Z" fill="rgb(143,143,143)" filter="url(#b2)"/>
<path d="M322.5,127.5C325.9,124.0 339.2,124.0 342.5,127.5C345.8,131.0 337.8,138.5 338.8,145.0C339.8,151.5 344.0,152.8 347.5,160.0C351.0,167.2 365.5,177.0 356.2,181.2C347.0,185.5 309.5,185.0 301.2,181.2C293.0,177.5 310.1,169.8 315.0,162.5C319.9,155.2 324.0,152.0 325.5,145.0C327.0,138.0 319.1,131.0 322.5,127.5Z" fill="rgb(153,153,153)" filter="url(#b2)"/>
<ellipse cx="330.0" cy="163.75" rx="18" ry="14" fill="url(#g1)"/>
<path d="M100.0,152.0C109.7,144.8 123.6,157.5 136.2,155.0C148.9,152.5 141.2,148.6 147.5,142.5C153.8,136.4 148.0,135.5 160.0,132.0C172.0,128.5 173.8,130.2 192.5,129.2C211.2,128.3 206.7,128.5 230.0,128.5C253.3,128.5 259.7,128.4 280.0,129.2C300.3,130.1 295.7,127.3 306.2,131.5C316.8,135.7 319.2,137.1 319.5,145.0C319.8,152.9 314.7,154.2 307.5,161.2C300.3,168.2 300.2,166.1 292.5,171.2C284.8,176.4 286.4,178.3 278.8,180.5C271.1,182.7 271.4,182.4 263.8,179.5C256.1,176.6 259.0,174.6 250.0,169.5C241.0,164.4 240.7,160.5 230.0,160.5C219.3,160.5 220.0,164.4 210.0,169.5C200.0,174.6 207.2,176.6 192.5,179.5C177.8,182.4 179.7,179.8 155.0,180.5C130.3,181.2 114.7,189.6 100.0,182.0C85.3,174.4 90.3,159.2 100.0,152.0Z" fill="rgb(65,65,65)" filter="url(#b3)"/>
<ellipse cx="262.5" cy="148.75" rx="26" ry="4.5" fill="rgb(92,92,92)" filter="url(#b2)" transform="rotate(25 262.5 148.75)"/>
<ellipse cx="167.5" cy="162.5" rx="5" ry="4" fill="rgb(92,92,92)" filter="url(#b2)"/>
<path d="M340.5,146.0C342.4,139.7 334.1,136.4 350.0,132.5C365.9,128.6 356.0,131.6 400.0,131.5C444.0,131.4 482.1,128.1 515.0,132.0C547.9,135.9 522.2,134.8 523.5,146.0C524.8,157.2 530.3,164.1 520.0,174.0C509.7,183.9 505.7,181.8 485.0,183.0C464.3,184.2 467.2,180.6 442.5,178.5C417.8,176.4 414.2,177.9 392.5,175.0C370.8,172.1 374.2,172.6 361.0,167.5C347.8,162.4 348.5,161.7 343.0,156.0C337.5,150.3 338.6,152.3 340.5,146.0Z" fill="rgb(65,65,65)" filter="url(#b3)"/>
<ellipse cx="435.0" cy="156.25" rx="11" ry="4.5" fill="rgb(102,102,102)" filter="url(#b2)"/>
<ellipse cx="492.5" cy="157.5" rx="10" ry="4.5" fill="rgb(102,102,102)" filter="url(#b2)"/>
<rect x="528" y="126.2" width="160" height="55.3" fill="url(#g2)" filter="url(#bx6)"/>
<ellipse cx="582" cy="153.5" rx="46" ry="8.5" fill="url(#g3)"/>
<ellipse cx="655" cy="154.5" rx="32" ry="7.5" fill="url(#g4)"/>
<rect x="736" y="126.2" width="139" height="55.3" fill="url(#g5)" filter="url(#bx6)"/>
<ellipse cx="800" cy="154" rx="56" ry="8" fill="url(#g6)"/>
<ellipse cx="708" cy="157.5" rx="14.5" ry="24" fill="rgb(66,66,66)" filter="url(#b2)" transform="rotate(35 708 157.5)"/>
<ellipse cx="861" cy="156" rx="8" ry="13" fill="rgb(69,69,69)" filter="url(#b2)"/>
<path d="M100.0,152.0C109.7,144.8 123.6,157.5 136.2,155.0C148.9,152.5 141.2,148.6 147.5,142.5C153.8,136.4 148.0,135.5 160.0,132.0C172.0,128.5 173.8,130.2 192.5,129.2C211.2,128.3 206.7,128.5 230.0,128.5C253.3,128.5 259.7,128.4 280.0,129.2C300.3,130.1 295.7,127.3 306.2,131.5C316.8,135.7 319.2,137.1 319.5,145.0C319.8,152.9 314.7,154.2 307.5,161.2C300.3,168.2 300.2,166.1 292.5,171.2C284.8,176.4 286.4,178.3 278.8,180.5C271.1,182.7 271.4,182.4 263.8,179.5C256.1,176.6 259.0,174.6 250.0,169.5C241.0,164.4 240.7,160.5 230.0,160.5C219.3,160.5 220.0,164.4 210.0,169.5C200.0,174.6 207.2,176.6 192.5,179.5C177.8,182.4 179.7,179.8 155.0,180.5C130.3,181.2 114.7,189.6 100.0,182.0C85.3,174.4 90.3,159.2 100.0,152.0Z" fill="#000" filter="url(#nDa)"/>
<path d="M100.0,152.0C109.7,144.8 123.6,157.5 136.2,155.0C148.9,152.5 141.2,148.6 147.5,142.5C153.8,136.4 148.0,135.5 160.0,132.0C172.0,128.5 173.8,130.2 192.5,129.2C211.2,128.3 206.7,128.5 230.0,128.5C253.3,128.5 259.7,128.4 280.0,129.2C300.3,130.1 295.7,127.3 306.2,131.5C316.8,135.7 319.2,137.1 319.5,145.0C319.8,152.9 314.7,154.2 307.5,161.2C300.3,168.2 300.2,166.1 292.5,171.2C284.8,176.4 286.4,178.3 278.8,180.5C271.1,182.7 271.4,182.4 263.8,179.5C256.1,176.6 259.0,174.6 250.0,169.5C241.0,164.4 240.7,160.5 230.0,160.5C219.3,160.5 220.0,164.4 210.0,169.5C200.0,174.6 207.2,176.6 192.5,179.5C177.8,182.4 179.7,179.8 155.0,180.5C130.3,181.2 114.7,189.6 100.0,182.0C85.3,174.4 90.3,159.2 100.0,152.0Z" fill="#fff" filter="url(#nLa)"/>
<path d="M340.5,146.0C342.4,139.7 334.1,136.4 350.0,132.5C365.9,128.6 356.0,131.6 400.0,131.5C444.0,131.4 482.1,128.1 515.0,132.0C547.9,135.9 522.2,134.8 523.5,146.0C524.8,157.2 530.3,164.1 520.0,174.0C509.7,183.9 505.7,181.8 485.0,183.0C464.3,184.2 467.2,180.6 442.5,178.5C417.8,176.4 414.2,177.9 392.5,175.0C370.8,172.1 374.2,172.6 361.0,167.5C347.8,162.4 348.5,161.7 343.0,156.0C337.5,150.3 338.6,152.3 340.5,146.0Z" fill="#000" filter="url(#nDa)"/>
<path d="M340.5,146.0C342.4,139.7 334.1,136.4 350.0,132.5C365.9,128.6 356.0,131.6 400.0,131.5C444.0,131.4 482.1,128.1 515.0,132.0C547.9,135.9 522.2,134.8 523.5,146.0C524.8,157.2 530.3,164.1 520.0,174.0C509.7,183.9 505.7,181.8 485.0,183.0C464.3,184.2 467.2,180.6 442.5,178.5C417.8,176.4 414.2,177.9 392.5,175.0C370.8,172.1 374.2,172.6 361.0,167.5C347.8,162.4 348.5,161.7 343.0,156.0C337.5,150.3 338.6,152.3 340.5,146.0Z" fill="#fff" filter="url(#nLa)"/>
<polygon points="115.0,126.2 878.6,126.2 878.6,181.5 115.0,181.5" fill="none" stroke="rgb(110,110,110)" stroke-width="4" opacity="0.5" filter="url(#b1)"/>
</g></g>
</g></g>
<g clip-path="url(#cpa2)"><g filter="url(#vir)">
<rect x="105.0" y="197.3" width="783.6" height="179.39999999999998" fill="rgb(177,177,177)"/>
<rect x="135.0" y="227.3" width="723.6" height="119.39999999999998" fill="#fff" filter="url(#nF)"/>
<rect x="135.0" y="227.3" width="723.6" height="119.39999999999998" fill="#000" filter="url(#nFd)"/>
<g filter="url(#bandf)"><g clip-path="url(#bca2)">
<polygon points="115.0,268.0 380.0,262.0 560.0,259.7 878.6,259.3 878.6,313.2 560.0,313.8 380.0,317.0 115.0,321.5" fill="url(#g14)"/>
<ellipse cx="180.0" cy="280.75" rx="32" ry="10" fill="url(#g8)"/>
<ellipse cx="350.0" cy="275.75" rx="30" ry="9" fill="url(#g9)"/>
<rect x="245" y="263" width="77" height="57" fill="url(#g10)" filter="url(#bx5)"/>
<ellipse cx="285.0" cy="287.0" rx="38" ry="8" fill="url(#g11)"/>
<ellipse cx="138.75" cy="280.75" rx="11" ry="12" fill="rgb(69,69,69)" filter="url(#b2)"/>
<path d="M100.0,293.0C110.5,287.5 129.2,295.9 145.0,296.5C160.8,297.1 157.6,296.3 167.5,295.8C177.4,295.2 178.5,292.5 187.5,294.0C196.5,295.5 202.5,297.5 206.2,302.0C210.0,306.5 212.8,310.0 203.8,313.2C194.7,316.5 183.2,315.5 167.5,316.0C151.8,316.5 152.0,314.6 136.2,315.5C120.5,316.4 108.5,325.2 100.0,320.0C91.5,314.8 89.5,298.5 100.0,293.0Z" fill="rgb(68,68,68)" filter="url(#b3)"/>
<path d="M225.0,275.0C228.6,273.2 232.4,283.1 235.5,286.0C238.6,288.9 242.4,288.0 243.8,292.5C245.1,297.0 249.6,309.7 243.8,313.2C237.9,316.8 213.7,316.5 208.8,313.8C203.8,311.0 211.3,303.0 214.0,296.5C216.7,290.0 221.4,276.8 225.0,275.0Z" fill="rgb(66,66,66)" filter="url(#b3)"/>
<path d="M322.0,301.5C323.7,296.8 323.5,297.2 330.0,293.0C336.5,288.8 340.7,286.8 350.0,283.5C359.3,280.2 362.4,282.7 370.0,279.0C377.6,275.3 376.7,271.5 382.5,267.8C388.3,264.0 386.2,264.1 395.0,263.0C403.8,261.9 408.3,262.4 420.0,263.0C431.7,263.6 434.5,263.2 445.0,265.5C455.5,267.8 455.1,269.9 465.0,272.8C474.9,275.6 477.0,277.2 487.5,277.8C498.0,278.3 500.1,277.6 510.0,275.2C519.9,272.9 523.0,270.7 530.0,267.8C537.0,264.8 533.9,262.0 540.0,262.8C546.1,263.5 551.8,265.9 556.2,271.0C560.7,276.1 561.5,276.3 559.2,284.5C557.0,292.7 553.3,299.8 546.5,306.0C539.7,312.2 539.7,311.8 530.0,311.2C520.3,310.7 514.9,306.1 505.0,303.8C495.1,301.4 494.5,299.5 487.5,301.2C480.5,303.0 480.5,310.7 475.0,311.2C469.5,311.8 473.7,307.2 463.8,303.8C453.8,300.2 446.8,300.0 432.5,296.2C418.2,292.5 414.5,285.2 402.5,287.5C390.5,289.8 388.6,301.0 381.0,306.2C373.4,311.5 378.4,308.1 370.0,310.0C361.6,311.9 356.0,313.7 345.0,314.5C334.0,315.3 328.1,316.3 322.8,313.2C317.4,310.2 320.3,306.2 322.0,301.5Z" fill="rgb(68,68,68)" filter="url(#b3)"/>
<path d="M560.5,260.2C564.9,256.9 581.0,256.9 585.0,260.2C589.0,263.6 580.0,270.6 580.5,277.0C581.0,283.4 584.4,284.5 587.5,292.0C590.6,299.5 605.5,310.0 596.2,314.5C587.0,319.0 549.8,318.5 541.2,314.5C532.8,310.5 549.4,302.0 553.8,294.5C558.1,287.0 561.6,283.9 563.0,277.0C564.4,270.1 556.1,263.6 560.5,260.2Z" fill="rgb(153,153,153)" filter="url(#b2)"/>
<ellipse cx="571.25" cy="297.0" rx="18" ry="13" fill="url(#g12)"/>
<path d="M584.5,274.5C584.6,268.2 586.0,266.3 592.0,263.0C598.0,259.7 600.0,260.6 610.0,260.5C620.0,260.4 620.4,261.4 635.0,262.5C649.6,263.6 659.1,264.9 672.5,265.0C685.9,265.1 683.8,262.3 692.5,263.0C701.2,263.7 698.9,264.2 710.0,268.0C721.1,271.8 726.0,279.2 740.0,279.2C754.0,279.2 759.5,272.1 770.0,268.0C780.5,263.9 772.8,263.2 785.0,261.8C797.2,260.3 808.8,259.0 822.5,261.8C836.2,264.5 837.0,267.6 843.8,273.5C850.5,279.4 853.2,280.6 851.5,287.0C849.8,293.4 845.9,297.1 836.2,301.0C826.6,304.9 820.8,303.7 810.0,303.8C799.2,303.8 797.6,299.5 790.0,301.2C782.4,303.0 784.5,311.2 777.5,311.2C770.5,311.2 769.9,303.6 760.0,301.2C750.1,298.9 745.5,298.9 735.0,301.2C724.5,303.6 722.0,308.6 715.0,311.2C708.0,313.9 712.0,314.8 705.0,312.5C698.0,310.2 698.4,303.3 685.0,301.2C671.6,299.2 662.1,304.6 647.5,303.8C632.9,302.9 630.1,296.3 622.5,297.5C614.9,298.7 619.3,306.8 615.0,308.8C610.7,310.7 609.5,310.4 604.0,306.0C598.5,301.6 596.0,297.4 591.5,290.0C587.0,282.6 584.4,280.8 584.5,274.5Z" fill="rgb(68,68,68)" filter="url(#b3)"/>
<ellipse cx="856.25" cy="289.5" rx="8" ry="18" fill="url(#g13)"/>
<path d="M100.0,293.0C110.5,287.5 129.2,295.9 145.0,296.5C160.8,297.1 157.6,296.3 167.5,295.8C177.4,295.2 178.5,292.5 187.5,294.0C196.5,295.5 202.5,297.5 206.2,302.0C210.0,306.5 212.8,310.0 203.8,313.2C194.7,316.5 183.2,315.5 167.5,316.0C151.8,316.5 152.0,314.6 136.2,315.5C120.5,316.4 108.5,325.2 100.0,320.0C91.5,314.8 89.5,298.5 100.0,293.0Z" fill="#000" filter="url(#nDa)"/>
<path d="M100.0,293.0C110.5,287.5 129.2,295.9 145.0,296.5C160.8,297.1 157.6,296.3 167.5,295.8C177.4,295.2 178.5,292.5 187.5,294.0C196.5,295.5 202.5,297.5 206.2,302.0C210.0,306.5 212.8,310.0 203.8,313.2C194.7,316.5 183.2,315.5 167.5,316.0C151.8,316.5 152.0,314.6 136.2,315.5C120.5,316.4 108.5,325.2 100.0,320.0C91.5,314.8 89.5,298.5 100.0,293.0Z" fill="#fff" filter="url(#nLa)"/>
<path d="M225.0,275.0C228.6,273.2 232.4,283.1 235.5,286.0C238.6,288.9 242.4,288.0 243.8,292.5C245.1,297.0 249.6,309.7 243.8,313.2C237.9,316.8 213.7,316.5 208.8,313.8C203.8,311.0 211.3,303.0 214.0,296.5C216.7,290.0 221.4,276.8 225.0,275.0Z" fill="#000" filter="url(#nDa)"/>
<path d="M225.0,275.0C228.6,273.2 232.4,283.1 235.5,286.0C238.6,288.9 242.4,288.0 243.8,292.5C245.1,297.0 249.6,309.7 243.8,313.2C237.9,316.8 213.7,316.5 208.8,313.8C203.8,311.0 211.3,303.0 214.0,296.5C216.7,290.0 221.4,276.8 225.0,275.0Z" fill="#fff" filter="url(#nLa)"/>
<path d="M322.0,301.5C323.7,296.8 323.5,297.2 330.0,293.0C336.5,288.8 340.7,286.8 350.0,283.5C359.3,280.2 362.4,282.7 370.0,279.0C377.6,275.3 376.7,271.5 382.5,267.8C388.3,264.0 386.2,264.1 395.0,263.0C403.8,261.9 408.3,262.4 420.0,263.0C431.7,263.6 434.5,263.2 445.0,265.5C455.5,267.8 455.1,269.9 465.0,272.8C474.9,275.6 477.0,277.2 487.5,277.8C498.0,278.3 500.1,277.6 510.0,275.2C519.9,272.9 523.0,270.7 530.0,267.8C537.0,264.8 533.9,262.0 540.0,262.8C546.1,263.5 551.8,265.9 556.2,271.0C560.7,276.1 561.5,276.3 559.2,284.5C557.0,292.7 553.3,299.8 546.5,306.0C539.7,312.2 539.7,311.8 530.0,311.2C520.3,310.7 514.9,306.1 505.0,303.8C495.1,301.4 494.5,299.5 487.5,301.2C480.5,303.0 480.5,310.7 475.0,311.2C469.5,311.8 473.7,307.2 463.8,303.8C453.8,300.2 446.8,300.0 432.5,296.2C418.2,292.5 414.5,285.2 402.5,287.5C390.5,289.8 388.6,301.0 381.0,306.2C373.4,311.5 378.4,308.1 370.0,310.0C361.6,311.9 356.0,313.7 345.0,314.5C334.0,315.3 328.1,316.3 322.8,313.2C317.4,310.2 320.3,306.2 322.0,301.5Z" fill="#000" filter="url(#nDa)"/>
<path d="M322.0,301.5C323.7,296.8 323.5,297.2 330.0,293.0C336.5,288.8 340.7,286.8 350.0,283.5C359.3,280.2 362.4,282.7 370.0,279.0C377.6,275.3 376.7,271.5 382.5,267.8C388.3,264.0 386.2,264.1 395.0,263.0C403.8,261.9 408.3,262.4 420.0,263.0C431.7,263.6 434.5,263.2 445.0,265.5C455.5,267.8 455.1,269.9 465.0,272.8C474.9,275.6 477.0,277.2 487.5,277.8C498.0,278.3 500.1,277.6 510.0,275.2C519.9,272.9 523.0,270.7 530.0,267.8C537.0,264.8 533.9,262.0 540.0,262.8C546.1,263.5 551.8,265.9 556.2,271.0C560.7,276.1 561.5,276.3 559.2,284.5C557.0,292.7 553.3,299.8 546.5,306.0C539.7,312.2 539.7,311.8 530.0,311.2C520.3,310.7 514.9,306.1 505.0,303.8C495.1,301.4 494.5,299.5 487.5,301.2C480.5,303.0 480.5,310.7 475.0,311.2C469.5,311.8 473.7,307.2 463.8,303.8C453.8,300.2 446.8,300.0 432.5,296.2C418.2,292.5 414.5,285.2 402.5,287.5C390.5,289.8 388.6,301.0 381.0,306.2C373.4,311.5 378.4,308.1 370.0,310.0C361.6,311.9 356.0,313.7 345.0,314.5C334.0,315.3 328.1,316.3 322.8,313.2C317.4,310.2 320.3,306.2 322.0,301.5Z" fill="#fff" filter="url(#nLa)"/>
<path d="M584.5,274.5C584.6,268.2 586.0,266.3 592.0,263.0C598.0,259.7 600.0,260.6 610.0,260.5C620.0,260.4 620.4,261.4 635.0,262.5C649.6,263.6 659.1,264.9 672.5,265.0C685.9,265.1 683.8,262.3 692.5,263.0C701.2,263.7 698.9,264.2 710.0,268.0C721.1,271.8 726.0,279.2 740.0,279.2C754.0,279.2 759.5,272.1 770.0,268.0C780.5,263.9 772.8,263.2 785.0,261.8C797.2,260.3 808.8,259.0 822.5,261.8C836.2,264.5 837.0,267.6 843.8,273.5C850.5,279.4 853.2,280.6 851.5,287.0C849.8,293.4 845.9,297.1 836.2,301.0C826.6,304.9 820.8,303.7 810.0,303.8C799.2,303.8 797.6,299.5 790.0,301.2C782.4,303.0 784.5,311.2 777.5,311.2C770.5,311.2 769.9,303.6 760.0,301.2C750.1,298.9 745.5,298.9 735.0,301.2C724.5,303.6 722.0,308.6 715.0,311.2C708.0,313.9 712.0,314.8 705.0,312.5C698.0,310.2 698.4,303.3 685.0,301.2C671.6,299.2 662.1,304.6 647.5,303.8C632.9,302.9 630.1,296.3 622.5,297.5C614.9,298.7 619.3,306.8 615.0,308.8C610.7,310.7 609.5,310.4 604.0,306.0C598.5,301.6 596.0,297.4 591.5,290.0C587.0,282.6 584.4,280.8 584.5,274.5Z" fill="#000" filter="url(#nDa)"/>
<path d="M584.5,274.5C584.6,268.2 586.0,266.3 592.0,263.0C598.0,259.7 600.0,260.6 610.0,260.5C620.0,260.4 620.4,261.4 635.0,262.5C649.6,263.6 659.1,264.9 672.5,265.0C685.9,265.1 683.8,262.3 692.5,263.0C701.2,263.7 698.9,264.2 710.0,268.0C721.1,271.8 726.0,279.2 740.0,279.2C754.0,279.2 759.5,272.1 770.0,268.0C780.5,263.9 772.8,263.2 785.0,261.8C797.2,260.3 808.8,259.0 822.5,261.8C836.2,264.5 837.0,267.6 843.8,273.5C850.5,279.4 853.2,280.6 851.5,287.0C849.8,293.4 845.9,297.1 836.2,301.0C826.6,304.9 820.8,303.7 810.0,303.8C799.2,303.8 797.6,299.5 790.0,301.2C782.4,303.0 784.5,311.2 777.5,311.2C770.5,311.2 769.9,303.6 760.0,301.2C750.1,298.9 745.5,298.9 735.0,301.2C724.5,303.6 722.0,308.6 715.0,311.2C708.0,313.9 712.0,314.8 705.0,312.5C698.0,310.2 698.4,303.3 685.0,301.2C671.6,299.2 662.1,304.6 647.5,303.8C632.9,302.9 630.1,296.3 622.5,297.5C614.9,298.7 619.3,306.8 615.0,308.8C610.7,310.7 609.5,310.4 604.0,306.0C598.5,301.6 596.0,297.4 591.5,290.0C587.0,282.6 584.4,280.8 584.5,274.5Z" fill="#fff" filter="url(#nLa)"/>
<polygon points="115.0,268.0 380.0,262.0 560.0,259.7 878.6,259.3 878.6,313.2 560.0,313.8 380.0,317.0 115.0,321.5" fill="none" stroke="rgb(110,110,110)" stroke-width="4" opacity="0.5" filter="url(#b1)"/>
</g></g>
</g></g>
<g clip-path="url(#cpa3)"><g filter="url(#vir)">
<rect x="105.0" y="329.0" width="783.6" height="179.3" fill="rgb(177,177,177)"/>
<rect x="135.0" y="359.0" width="723.6" height="119.30000000000001" fill="#fff" filter="url(#nF)"/>
<rect x="135.0" y="359.0" width="723.6" height="119.30000000000001" fill="#000" filter="url(#nFd)"/>
<g filter="url(#bandf)"><g clip-path="url(#bca3)">
<polygon points="115.0,391.0 878.6,392.0 878.6,443.0 115.0,441.0" fill="url(#g15)"/>
<ellipse cx="541" cy="429" rx="15" ry="12" fill="rgb(102,102,102)" filter="url(#b3)"/>
<polygon points="115.0,394.5 878.6,395.5 878.6,439.5 115.0,437.5" fill="#000" filter="url(#nDc)"/>
<polygon points="115.0,394.5 878.6,395.5 878.6,439.5 115.0,437.5" fill="#fff" filter="url(#nLc)"/>
<polygon points="115.0,391.0 878.6,392.0 878.6,443.0 115.0,441.0" fill="none" stroke="rgb(110,110,110)" stroke-width="4" opacity="0.5" filter="url(#b1)"/>
</g></g>
</g></g>
<g clip-path="url(#cpa4)"><g filter="url(#vir)">
<rect x="105.0" y="460.6" width="783.6" height="179.39999999999998" fill="rgb(177,177,177)"/>
<rect x="135.0" y="490.6" width="723.6" height="119.39999999999998" fill="#fff" filter="url(#nF)"/>
<rect x="135.0" y="490.6" width="723.6" height="119.39999999999998" fill="#000" filter="url(#nFd)"/>
<g filter="url(#bandf)"><g clip-path="url(#bca4)">
<polygon points="115.0,524.0 878.6,530.0 878.6,575.0 115.0,568.5" fill="url(#g16)"/>
<polygon points="115.0,529.0 878.6,535.0 878.6,570.0 115.0,563.5" fill="#000" filter="url(#nDf)"/>
<polygon points="115.0,529.0 878.6,535.0 878.6,570.0 115.0,563.5" fill="#fff" filter="url(#nLf)"/>
<polygon points="115.0,524.0 878.6,530.0 878.6,575.0 115.0,568.5" fill="none" stroke="rgb(89,89,89)" stroke-width="3" opacity="0.4" filter="url(#b1)"/>
</g></g>
</g></g>
<g clip-path="url(#cpb1)"><g filter="url(#vir)">
<rect x="105.0" y="858.0" width="783.6" height="203.0999999999999" fill="rgb(177,177,177)"/>
<rect x="135.0" y="888.0" width="723.6" height="143.0999999999999" fill="#fff" filter="url(#nF)"/>
<rect x="135.0" y="888.0" width="723.6" height="143.0999999999999" fill="#000" filter="url(#nFd)"/>
<g filter="url(#bandf)"><g clip-path="url(#bcb1)">
<polygon points="115.0,916.3 878.6,916.3 878.6,1000.3 115.0,1000.3" fill="url(#g27)"/>
<rect x="283" y="916.3" width="222" height="84.0" fill="url(#g17)" filter="url(#bx5)"/>
<ellipse cx="310.0" cy="955.25" rx="20" ry="8" fill="url(#g18)" transform="rotate(20 310.0 955.25)"/>
<ellipse cx="397.5" cy="954.5" rx="34" ry="7" fill="url(#g19)" transform="rotate(-7 397.5 954.5)"/>
<ellipse cx="465.0" cy="955.75" rx="34" ry="7" fill="url(#g20)" transform="rotate(9 465.0 955.75)"/>
<ellipse cx="506.25" cy="976.5" rx="18" ry="14" fill="url(#g21)"/>
<path d="M100.0,940.0C111.1,928.6 132.9,944.0 147.5,949.0C162.1,954.0 154.9,962.1 162.5,961.5C170.1,960.9 170.1,955.8 180.0,946.5C189.9,937.2 190.4,927.3 205.0,921.5C219.6,915.7 223.8,921.5 242.5,921.5C261.2,921.5 274.6,915.7 285.0,921.5C295.4,927.3 285.2,933.1 287.0,946.5C288.8,959.9 293.0,967.3 292.5,979.0C292.0,990.7 299.6,992.1 285.0,996.5C270.4,1000.9 254.5,997.5 230.0,997.8C205.5,998.0 210.3,997.7 180.0,997.8C149.7,997.8 118.7,1011.5 100.0,998.0C81.3,984.5 88.9,951.4 100.0,940.0Z" fill="rgb(79,79,79)" filter="url(#b2)"/>
<path d="M100.0,919.0C121.5,915.3 191.2,914.2 207.5,919.5C223.8,924.8 190.2,937.0 181.2,945.2C172.2,953.5 169.5,960.5 162.5,961.0C155.5,961.5 158.8,952.4 146.2,947.8C133.8,943.1 109.2,943.8 100.0,938.0C90.8,932.2 78.5,922.7 100.0,919.0Z" fill="rgb(145,145,145)" filter="url(#b3)"/>
<ellipse cx="158.75" cy="931.5" rx="30" ry="10" fill="url(#g22)"/>
<ellipse cx="240.0" cy="960.25" rx="30" ry="6" fill="rgb(99,99,99)" filter="url(#b3)"/>
<path d="M332.0,940.2C332.7,933.7 332.2,931.9 337.0,927.0C341.8,922.1 343.1,922.0 350.0,922.0C356.9,922.0 358.2,922.1 363.0,927.0C367.8,931.9 367.6,933.7 368.0,940.2C368.4,946.8 367.4,945.7 364.5,951.5C361.6,957.3 361.1,956.4 357.0,962.0C352.9,967.6 353.3,972.5 349.2,972.5C345.2,972.5 345.7,967.6 341.8,962.0C337.8,956.4 337.1,957.3 334.5,951.5C331.9,945.7 331.3,946.8 332.0,940.2Z" fill="rgb(79,79,79)" filter="url(#b1_5)"/>
<ellipse cx="619.1793313069909" cy="978.0243161094224" rx="50" ry="11" fill="url(#g23)"/>
<ellipse cx="595.0" cy="980.25" rx="26" ry="10" fill="url(#g24)"/>
<path d="M623.0,920.3C646.5,917.3 740.8,915.8 763.6,920.3C786.4,924.8 746.5,935.2 737.0,942.7C727.5,950.2 728.2,956.4 716.1,957.9C703.9,959.4 690.2,954.8 676.2,950.3C662.1,945.7 656.4,941.1 645.8,935.1C635.1,929.1 599.4,923.2 623.0,920.3Z" fill="rgb(153,153,153)" filter="url(#b3)"/>
<ellipse cx="706.5653495440729" cy="931.2917933130699" rx="46" ry="11" fill="url(#g25)"/>
<path d="M790.0,925.2C800.5,918.5 854.0,918.5 870.0,925.2C886.0,932.0 874.0,946.2 870.0,959.0C866.0,971.8 857.0,984.0 850.0,989.0C843.0,994.0 841.5,990.0 835.0,984.0C828.5,978.0 826.5,970.8 817.5,959.0C808.5,947.2 779.5,932.0 790.0,925.2Z" fill="rgb(153,153,153)" filter="url(#b4)"/>
<ellipse cx="830.0" cy="942.0" rx="32" ry="15" fill="url(#g26)"/>
<path d="M496.2,936.5C497.5,927.8 494.6,928.6 502.5,922.8C510.4,916.9 505.8,919.4 520.0,919.0C534.2,918.6 536.7,911.5 545.0,921.5C553.3,931.5 550.0,936.5 545.0,949.0C540.0,961.5 541.7,956.5 530.0,959.0C518.3,961.5 520.4,959.8 510.0,956.5C499.6,953.2 503.3,955.7 498.8,949.0C494.2,942.3 495.0,945.2 496.2,936.5Z" fill="rgb(79,79,79)" filter="url(#b1_5)"/>
<path d="M517.5,971.5C517.5,962.3 515.8,963.2 525.0,956.5C534.2,949.8 530.0,952.3 545.0,951.5C560.0,950.7 557.5,949.0 570.0,954.0C582.5,959.0 579.2,956.5 582.5,966.5C585.8,976.5 584.2,975.7 580.0,984.0C575.8,992.3 575.8,989.8 570.0,991.5C564.2,993.2 567.5,988.2 562.5,989.0C557.5,989.8 561.7,994.8 555.0,994.0C548.3,993.2 552.5,989.8 542.5,986.5C532.5,983.2 533.3,989.0 525.0,984.0C516.7,979.0 517.5,980.7 517.5,971.5Z" fill="rgb(79,79,79)" filter="url(#b1_5)"/>
<path d="M547.0,921.0C560.3,915.0 581.8,921.9 604.0,926.4C626.1,930.8 624.2,932.8 642.0,940.0C659.7,947.2 662.2,951.6 680.0,957.1C697.7,962.6 707.8,957.8 718.0,963.6C728.2,969.3 732.5,977.9 723.7,981.8C714.8,985.7 699.0,983.0 680.0,980.3C660.9,977.6 659.7,976.3 642.0,970.4C624.2,964.6 619.1,960.2 604.0,955.2C588.9,950.3 590.7,949.9 577.4,949.1C564.1,948.4 554.1,958.7 547.0,952.2C539.9,945.6 533.7,927.1 547.0,921.0Z" fill="rgb(79,79,79)" filter="url(#b2)"/>
<path d="M708.8,980.2C707.2,973.1 704.8,973.4 715.0,962.8C725.2,952.1 748.8,933.2 760.0,927.0C771.2,920.8 762.8,929.6 771.2,931.5C779.8,933.4 792.8,929.2 802.5,936.5C812.2,943.8 811.0,956.2 820.0,967.8C829.0,979.2 844.5,987.6 847.5,994.0C850.5,1000.4 860.0,998.6 835.0,999.5C810.0,1000.4 747.8,1002.4 722.5,998.5C697.2,994.6 710.2,987.4 708.8,980.2Z" fill="rgb(76,76,76)" filter="url(#b1_5)"/>
<ellipse cx="740.0" cy="961.5" rx="9" ry="5" fill="rgb(102,102,102)" filter="url(#b2)"/>
<ellipse cx="775.0" cy="961.5" rx="9" ry="5" fill="rgb(102,102,102)" filter="url(#b2)"/>
<path d="M100.0,940.0C111.1,928.6 132.9,944.0 147.5,949.0C162.1,954.0 154.9,962.1 162.5,961.5C170.1,960.9 170.1,955.8 180.0,946.5C189.9,937.2 190.4,927.3 205.0,921.5C219.6,915.7 223.8,921.5 242.5,921.5C261.2,921.5 274.6,915.7 285.0,921.5C295.4,927.3 285.2,933.1 287.0,946.5C288.8,959.9 293.0,967.3 292.5,979.0C292.0,990.7 299.6,992.1 285.0,996.5C270.4,1000.9 254.5,997.5 230.0,997.8C205.5,998.0 210.3,997.7 180.0,997.8C149.7,997.8 118.7,1011.5 100.0,998.0C81.3,984.5 88.9,951.4 100.0,940.0Z" fill="#000" filter="url(#nDb)"/>
<path d="M100.0,940.0C111.1,928.6 132.9,944.0 147.5,949.0C162.1,954.0 154.9,962.1 162.5,961.5C170.1,960.9 170.1,955.8 180.0,946.5C189.9,937.2 190.4,927.3 205.0,921.5C219.6,915.7 223.8,921.5 242.5,921.5C261.2,921.5 274.6,915.7 285.0,921.5C295.4,927.3 285.2,933.1 287.0,946.5C288.8,959.9 293.0,967.3 292.5,979.0C292.0,990.7 299.6,992.1 285.0,996.5C270.4,1000.9 254.5,997.5 230.0,997.8C205.5,998.0 210.3,997.7 180.0,997.8C149.7,997.8 118.7,1011.5 100.0,998.0C81.3,984.5 88.9,951.4 100.0,940.0Z" fill="#fff" filter="url(#nLb)"/>
<path d="M332.0,940.2C332.7,933.7 332.2,931.9 337.0,927.0C341.8,922.1 343.1,922.0 350.0,922.0C356.9,922.0 358.2,922.1 363.0,927.0C367.8,931.9 367.6,933.7 368.0,940.2C368.4,946.8 367.4,945.7 364.5,951.5C361.6,957.3 361.1,956.4 357.0,962.0C352.9,967.6 353.3,972.5 349.2,972.5C345.2,972.5 345.7,967.6 341.8,962.0C337.8,956.4 337.1,957.3 334.5,951.5C331.9,945.7 331.3,946.8 332.0,940.2Z" fill="#000" filter="url(#nDb)"/>
<path d="M332.0,940.2C332.7,933.7 332.2,931.9 337.0,927.0C341.8,922.1 343.1,922.0 350.0,922.0C356.9,922.0 358.2,922.1 363.0,927.0C367.8,931.9 367.6,933.7 368.0,940.2C368.4,946.8 367.4,945.7 364.5,951.5C361.6,957.3 361.1,956.4 357.0,962.0C352.9,967.6 353.3,972.5 349.2,972.5C345.2,972.5 345.7,967.6 341.8,962.0C337.8,956.4 337.1,957.3 334.5,951.5C331.9,945.7 331.3,946.8 332.0,940.2Z" fill="#fff" filter="url(#nLb)"/>
<path d="M496.2,936.5C497.5,927.8 494.6,928.6 502.5,922.8C510.4,916.9 505.8,919.4 520.0,919.0C534.2,918.6 536.7,911.5 545.0,921.5C553.3,931.5 550.0,936.5 545.0,949.0C540.0,961.5 541.7,956.5 530.0,959.0C518.3,961.5 520.4,959.8 510.0,956.5C499.6,953.2 503.3,955.7 498.8,949.0C494.2,942.3 495.0,945.2 496.2,936.5Z" fill="#000" filter="url(#nDb)"/>
<path d="M496.2,936.5C497.5,927.8 494.6,928.6 502.5,922.8C510.4,916.9 505.8,919.4 520.0,919.0C534.2,918.6 536.7,911.5 545.0,921.5C553.3,931.5 550.0,936.5 545.0,949.0C540.0,961.5 541.7,956.5 530.0,959.0C518.3,961.5 520.4,959.8 510.0,956.5C499.6,953.2 503.3,955.7 498.8,949.0C494.2,942.3 495.0,945.2 496.2,936.5Z" fill="#fff" filter="url(#nLb)"/>
<path d="M517.5,971.5C517.5,962.3 515.8,963.2 525.0,956.5C534.2,949.8 530.0,952.3 545.0,951.5C560.0,950.7 557.5,949.0 570.0,954.0C582.5,959.0 579.2,956.5 582.5,966.5C585.8,976.5 584.2,975.7 580.0,984.0C575.8,992.3 575.8,989.8 570.0,991.5C564.2,993.2 567.5,988.2 562.5,989.0C557.5,989.8 561.7,994.8 555.0,994.0C548.3,993.2 552.5,989.8 542.5,986.5C532.5,983.2 533.3,989.0 525.0,984.0C516.7,979.0 517.5,980.7 517.5,971.5Z" fill="#000" filter="url(#nDb)"/>
<path d="M517.5,971.5C517.5,962.3 515.8,963.2 525.0,956.5C534.2,949.8 530.0,952.3 545.0,951.5C560.0,950.7 557.5,949.0 570.0,954.0C582.5,959.0 579.2,956.5 582.5,966.5C585.8,976.5 584.2,975.7 580.0,984.0C575.8,992.3 575.8,989.8 570.0,991.5C564.2,993.2 567.5,988.2 562.5,989.0C557.5,989.8 561.7,994.8 555.0,994.0C548.3,993.2 552.5,989.8 542.5,986.5C532.5,983.2 533.3,989.0 525.0,984.0C516.7,979.0 517.5,980.7 517.5,971.5Z" fill="#fff" filter="url(#nLb)"/>
<path d="M547.0,921.0C560.3,915.0 581.8,921.9 604.0,926.4C626.1,930.8 624.2,932.8 642.0,940.0C659.7,947.2 662.2,951.6 680.0,957.1C697.7,962.6 707.8,957.8 718.0,963.6C728.2,969.3 732.5,977.9 723.7,981.8C714.8,985.7 699.0,983.0 680.0,980.3C660.9,977.6 659.7,976.3 642.0,970.4C624.2,964.6 619.1,960.2 604.0,955.2C588.9,950.3 590.7,949.9 577.4,949.1C564.1,948.4 554.1,958.7 547.0,952.2C539.9,945.6 533.7,927.1 547.0,921.0Z" fill="#000" filter="url(#nDb)"/>
<path d="M547.0,921.0C560.3,915.0 581.8,921.9 604.0,926.4C626.1,930.8 624.2,932.8 642.0,940.0C659.7,947.2 662.2,951.6 680.0,957.1C697.7,962.6 707.8,957.8 718.0,963.6C728.2,969.3 732.5,977.9 723.7,981.8C714.8,985.7 699.0,983.0 680.0,980.3C660.9,977.6 659.7,976.3 642.0,970.4C624.2,964.6 619.1,960.2 604.0,955.2C588.9,950.3 590.7,949.9 577.4,949.1C564.1,948.4 554.1,958.7 547.0,952.2C539.9,945.6 533.7,927.1 547.0,921.0Z" fill="#fff" filter="url(#nLb)"/>
<path d="M708.8,980.2C707.2,973.1 704.8,973.4 715.0,962.8C725.2,952.1 748.8,933.2 760.0,927.0C771.2,920.8 762.8,929.6 771.2,931.5C779.8,933.4 792.8,929.2 802.5,936.5C812.2,943.8 811.0,956.2 820.0,967.8C829.0,979.2 844.5,987.6 847.5,994.0C850.5,1000.4 860.0,998.6 835.0,999.5C810.0,1000.4 747.8,1002.4 722.5,998.5C697.2,994.6 710.2,987.4 708.8,980.2Z" fill="#000" filter="url(#nDb)"/>
<path d="M708.8,980.2C707.2,973.1 704.8,973.4 715.0,962.8C725.2,952.1 748.8,933.2 760.0,927.0C771.2,920.8 762.8,929.6 771.2,931.5C779.8,933.4 792.8,929.2 802.5,936.5C812.2,943.8 811.0,956.2 820.0,967.8C829.0,979.2 844.5,987.6 847.5,994.0C850.5,1000.4 860.0,998.6 835.0,999.5C810.0,1000.4 747.8,1002.4 722.5,998.5C697.2,994.6 710.2,987.4 708.8,980.2Z" fill="#fff" filter="url(#nLb)"/>
<polygon points="115.0,916.3 878.6,916.3 878.6,1000.3 115.0,1000.3" fill="none" stroke="rgb(110,110,110)" stroke-width="4" opacity="0.5" filter="url(#b1)"/>
</g></g>
</g></g>
<g clip-path="url(#cpb2)"><g filter="url(#vir)">
<rect x="105.0" y="1013.3" width="783.6" height="203.9000000000001" fill="rgb(177,177,177)"/>
<rect x="135.0" y="1043.3" width="723.6" height="143.9000000000001" fill="#fff" filter="url(#nF)"/>
<rect x="135.0" y="1043.3" width="723.6" height="143.9000000000001" fill="#000" filter="url(#nFd)"/>
<g filter="url(#bandf)"><g clip-path="url(#bcb2)">
<polygon points="115.0,1080.0 500.0,1078.0 878.6,1077.0 878.6,1159.0 500.0,1160.0 115.0,1162.3" fill="url(#g40)"/>
<ellipse cx="136" cy="1117.5" rx="20" ry="27" fill="url(#g28)"/>
<rect x="224" y="1080" width="60" height="82" fill="url(#g29)" filter="url(#bx4)"/>
<ellipse cx="255" cy="1118.7" rx="24" ry="15" fill="url(#g30)"/>
<rect x="401" y="1079" width="69" height="82" fill="url(#g31)" filter="url(#bx4)"/>
<ellipse cx="440" cy="1115" rx="25" ry="14" fill="url(#g32)"/>
<rect x="784" y="1077" width="62" height="83" fill="url(#g33)" filter="url(#bx4)"/>
<ellipse cx="810" cy="1113.7" rx="23" ry="14" fill="url(#g34)"/>
<ellipse cx="180.0" cy="1146.25" rx="19" ry="15" fill="url(#g35)"/>
<ellipse cx="335.0" cy="1150.0" rx="42" ry="10" fill="url(#g36)"/>
<ellipse cx="500.0" cy="1143.75" rx="26" ry="16" fill="url(#g37)"/>
<ellipse cx="567.5" cy="1146.25" rx="20" ry="14" fill="url(#g38)"/>
<ellipse cx="660.0" cy="1143.75" rx="20" ry="15" fill="url(#g39)"/>
<path d="M146.2,1150.0C145.2,1144.1 142.0,1142.5 145.0,1132.5C148.0,1122.5 150.2,1123.2 157.5,1112.5C164.8,1101.8 165.8,1100.2 172.5,1092.5C179.2,1084.8 173.8,1086.4 182.5,1083.8C191.2,1081.1 193.0,1081.2 205.0,1082.5C217.0,1083.8 220.5,1084.1 227.5,1088.8C234.5,1093.4 231.6,1091.7 231.2,1100.0C230.9,1108.3 229.9,1108.0 226.2,1120.0C222.6,1132.0 221.7,1134.9 217.5,1145.0C213.3,1155.1 214.6,1154.5 210.5,1158.0C206.4,1161.5 205.6,1161.1 202.0,1158.0C198.4,1154.9 197.9,1153.0 197.0,1146.2C196.1,1139.5 200.3,1139.8 198.8,1132.5C197.2,1125.2 195.2,1124.0 191.2,1118.8C187.2,1113.5 187.6,1114.0 183.8,1113.0C179.9,1112.0 180.8,1111.1 177.0,1115.0C173.2,1118.9 173.0,1120.2 169.5,1127.5C166.0,1134.8 167.3,1135.0 163.8,1142.5C160.2,1150.0 160.2,1152.3 156.2,1155.5C152.2,1158.7 151.4,1156.0 148.8,1154.5C146.1,1153.0 147.2,1155.9 146.2,1150.0Z" fill="rgb(76,76,76)" filter="url(#b1_5)"/>
<path d="M295.0,1087.5C301.4,1080.5 291.0,1083.4 305.0,1082.5C319.0,1081.6 337.5,1081.5 355.0,1083.7C372.5,1085.9 370.1,1088.2 380.0,1092.0C389.9,1095.8 393.1,1095.3 397.5,1100.0C401.9,1104.7 399.4,1105.5 399.0,1112.0C398.6,1118.5 402.3,1123.6 396.0,1128.0C389.7,1132.4 379.2,1130.3 372.0,1131.0C364.8,1131.7 371.9,1132.4 365.0,1131.0C358.1,1129.6 352.1,1126.2 342.5,1125.0C332.9,1123.8 331.1,1123.9 324.0,1126.0C316.9,1128.1 319.7,1127.0 312.0,1134.0C304.3,1141.0 297.3,1150.5 291.0,1156.0C284.7,1161.5 287.9,1158.9 285.0,1157.5C282.1,1156.1 280.4,1160.5 278.7,1150.0C276.9,1139.5 273.7,1127.1 277.5,1112.5C281.3,1097.9 288.6,1094.5 295.0,1087.5Z" fill="rgb(76,76,76)" filter="url(#b2)"/>
<ellipse cx="405.5" cy="1145" rx="11" ry="12" fill="rgb(76,76,76)" filter="url(#b2)"/>
<path d="M466.2,1097.5C468.4,1087.5 460.7,1086.8 475.0,1082.5C489.3,1078.2 501.3,1079.2 520.0,1081.2C538.7,1083.2 538.3,1081.7 545.0,1090.0C551.7,1098.3 550.3,1107.2 545.0,1112.5C539.7,1117.8 534.3,1112.7 525.0,1110.0C515.7,1107.3 518.0,1105.2 510.0,1102.5C502.0,1099.8 501.0,1096.7 495.0,1100.0C489.0,1103.3 491.5,1106.3 487.5,1115.0C483.5,1123.7 484.7,1127.8 480.0,1132.5C475.3,1137.2 473.5,1135.8 470.0,1132.5C466.5,1129.2 468.0,1129.3 467.0,1120.0C466.0,1110.7 464.1,1107.5 466.2,1097.5Z" fill="rgb(76,76,76)" filter="url(#b1_5)"/>
<path d="M542.5,1112.5C544.2,1109.0 548.2,1108.6 548.8,1115.0C549.3,1121.4 547.0,1131.2 545.0,1140.0C543.0,1148.8 541.6,1150.2 540.0,1152.5C538.4,1154.8 537.7,1155.2 538.0,1150.0C538.3,1144.8 540.2,1138.8 541.2,1130.0C542.3,1121.2 540.8,1116.0 542.5,1112.5Z" fill="rgb(79,79,79)" filter="url(#b1_5)"/>
<path d="M545.0,1090.0C562.5,1083.6 587.3,1086.2 620.0,1085.0C652.7,1083.8 662.8,1081.8 685.0,1085.0C707.2,1088.2 699.8,1095.0 715.0,1098.8C730.2,1102.5 737.2,1103.3 750.0,1101.2C762.8,1099.2 763.9,1092.3 770.0,1090.0C776.1,1087.7 772.8,1085.4 776.2,1091.2C779.8,1097.1 782.4,1106.5 785.0,1115.0C787.6,1123.5 788.7,1119.9 787.5,1127.5C786.3,1135.1 786.4,1141.4 780.0,1147.5C773.6,1153.6 782.2,1152.3 760.0,1153.8C737.8,1155.2 703.1,1157.0 685.0,1153.8C666.9,1150.5 685.4,1147.3 682.5,1140.0C679.6,1132.7 678.3,1129.5 672.5,1122.5C666.7,1115.5 663.9,1110.0 657.5,1110.0C651.1,1110.0 649.1,1115.5 645.0,1122.5C640.9,1129.5 642.3,1133.6 640.0,1140.0C637.7,1146.4 642.0,1147.1 635.0,1150.0C628.0,1152.9 619.9,1151.3 610.0,1152.5C600.1,1153.7 597.2,1157.9 592.5,1155.0C587.8,1152.1 592.3,1147.6 590.0,1140.0C587.7,1132.4 587.8,1129.2 582.5,1122.5C577.2,1115.8 576.2,1113.6 567.5,1111.2C558.8,1108.9 550.2,1117.5 545.0,1112.5C539.8,1107.5 527.5,1096.4 545.0,1090.0Z" fill="rgb(76,76,76)" filter="url(#b1_5)"/>
<ellipse cx="722.5" cy="1118.75" rx="18" ry="6" fill="rgb(99,99,99)" filter="url(#b2)" transform="rotate(25 722.5 1118.75)"/>
<path d="M837.0,1083.8C845.0,1080.8 862.3,1075.2 870.0,1082.5C877.7,1089.8 875.0,1107.6 870.0,1115.0C865.0,1122.4 855.9,1115.5 848.8,1114.2C841.6,1113.0 842.5,1114.0 839.5,1109.5C836.5,1105.0 836.3,1101.0 835.8,1095.0C835.2,1089.0 829.0,1086.7 837.0,1083.8Z" fill="rgb(76,76,76)" filter="url(#b1_5)"/>
<path d="M835.8,1122.0C839.2,1117.0 840.8,1119.1 848.8,1118.5C856.7,1117.9 865.0,1111.0 870.0,1119.5C875.0,1128.0 877.7,1147.0 870.0,1155.0C862.3,1163.0 845.4,1157.2 837.0,1153.8C828.6,1150.2 834.3,1147.4 834.0,1140.0C833.7,1132.6 832.3,1127.0 835.8,1122.0Z" fill="rgb(76,76,76)" filter="url(#b1_5)"/>
<path d="M146.2,1150.0C145.2,1144.1 142.0,1142.5 145.0,1132.5C148.0,1122.5 150.2,1123.2 157.5,1112.5C164.8,1101.8 165.8,1100.2 172.5,1092.5C179.2,1084.8 173.8,1086.4 182.5,1083.8C191.2,1081.1 193.0,1081.2 205.0,1082.5C217.0,1083.8 220.5,1084.1 227.5,1088.8C234.5,1093.4 231.6,1091.7 231.2,1100.0C230.9,1108.3 229.9,1108.0 226.2,1120.0C222.6,1132.0 221.7,1134.9 217.5,1145.0C213.3,1155.1 214.6,1154.5 210.5,1158.0C206.4,1161.5 205.6,1161.1 202.0,1158.0C198.4,1154.9 197.9,1153.0 197.0,1146.2C196.1,1139.5 200.3,1139.8 198.8,1132.5C197.2,1125.2 195.2,1124.0 191.2,1118.8C187.2,1113.5 187.6,1114.0 183.8,1113.0C179.9,1112.0 180.8,1111.1 177.0,1115.0C173.2,1118.9 173.0,1120.2 169.5,1127.5C166.0,1134.8 167.3,1135.0 163.8,1142.5C160.2,1150.0 160.2,1152.3 156.2,1155.5C152.2,1158.7 151.4,1156.0 148.8,1154.5C146.1,1153.0 147.2,1155.9 146.2,1150.0Z" fill="#000" filter="url(#nDb)"/>
<path d="M146.2,1150.0C145.2,1144.1 142.0,1142.5 145.0,1132.5C148.0,1122.5 150.2,1123.2 157.5,1112.5C164.8,1101.8 165.8,1100.2 172.5,1092.5C179.2,1084.8 173.8,1086.4 182.5,1083.8C191.2,1081.1 193.0,1081.2 205.0,1082.5C217.0,1083.8 220.5,1084.1 227.5,1088.8C234.5,1093.4 231.6,1091.7 231.2,1100.0C230.9,1108.3 229.9,1108.0 226.2,1120.0C222.6,1132.0 221.7,1134.9 217.5,1145.0C213.3,1155.1 214.6,1154.5 210.5,1158.0C206.4,1161.5 205.6,1161.1 202.0,1158.0C198.4,1154.9 197.9,1153.0 197.0,1146.2C196.1,1139.5 200.3,1139.8 198.8,1132.5C197.2,1125.2 195.2,1124.0 191.2,1118.8C187.2,1113.5 187.6,1114.0 183.8,1113.0C179.9,1112.0 180.8,1111.1 177.0,1115.0C173.2,1118.9 173.0,1120.2 169.5,1127.5C166.0,1134.8 167.3,1135.0 163.8,1142.5C160.2,1150.0 160.2,1152.3 156.2,1155.5C152.2,1158.7 151.4,1156.0 148.8,1154.5C146.1,1153.0 147.2,1155.9 146.2,1150.0Z" fill="#fff" filter="url(#nLb)"/>
<path d="M295.0,1087.5C301.4,1080.5 291.0,1083.4 305.0,1082.5C319.0,1081.6 337.5,1081.5 355.0,1083.7C372.5,1085.9 370.1,1088.2 380.0,1092.0C389.9,1095.8 393.1,1095.3 397.5,1100.0C401.9,1104.7 399.4,1105.5 399.0,1112.0C398.6,1118.5 402.3,1123.6 396.0,1128.0C389.7,1132.4 379.2,1130.3 372.0,1131.0C364.8,1131.7 371.9,1132.4 365.0,1131.0C358.1,1129.6 352.1,1126.2 342.5,1125.0C332.9,1123.8 331.1,1123.9 324.0,1126.0C316.9,1128.1 319.7,1127.0 312.0,1134.0C304.3,1141.0 297.3,1150.5 291.0,1156.0C284.7,1161.5 287.9,1158.9 285.0,1157.5C282.1,1156.1 280.4,1160.5 278.7,1150.0C276.9,1139.5 273.7,1127.1 277.5,1112.5C281.3,1097.9 288.6,1094.5 295.0,1087.5Z" fill="#000" filter="url(#nDb)"/>
<path d="M295.0,1087.5C301.4,1080.5 291.0,1083.4 305.0,1082.5C319.0,1081.6 337.5,1081.5 355.0,1083.7C372.5,1085.9 370.1,1088.2 380.0,1092.0C389.9,1095.8 393.1,1095.3 397.5,1100.0C401.9,1104.7 399.4,1105.5 399.0,1112.0C398.6,1118.5 402.3,1123.6 396.0,1128.0C389.7,1132.4 379.2,1130.3 372.0,1131.0C364.8,1131.7 371.9,1132.4 365.0,1131.0C358.1,1129.6 352.1,1126.2 342.5,1125.0C332.9,1123.8 331.1,1123.9 324.0,1126.0C316.9,1128.1 319.7,1127.0 312.0,1134.0C304.3,1141.0 297.3,1150.5 291.0,1156.0C284.7,1161.5 287.9,1158.9 285.0,1157.5C282.1,1156.1 280.4,1160.5 278.7,1150.0C276.9,1139.5 273.7,1127.1 277.5,1112.5C281.3,1097.9 288.6,1094.5 295.0,1087.5Z" fill="#fff" filter="url(#nLb)"/>
<path d="M466.2,1097.5C468.4,1087.5 460.7,1086.8 475.0,1082.5C489.3,1078.2 501.3,1079.2 520.0,1081.2C538.7,1083.2 538.3,1081.7 545.0,1090.0C551.7,1098.3 550.3,1107.2 545.0,1112.5C539.7,1117.8 534.3,1112.7 525.0,1110.0C515.7,1107.3 518.0,1105.2 510.0,1102.5C502.0,1099.8 501.0,1096.7 495.0,1100.0C489.0,1103.3 491.5,1106.3 487.5,1115.0C483.5,1123.7 484.7,1127.8 480.0,1132.5C475.3,1137.2 473.5,1135.8 470.0,1132.5C466.5,1129.2 468.0,1129.3 467.0,1120.0C466.0,1110.7 464.1,1107.5 466.2,1097.5Z" fill="#000" filter="url(#nDb)"/>
<path d="M466.2,1097.5C468.4,1087.5 460.7,1086.8 475.0,1082.5C489.3,1078.2 501.3,1079.2 520.0,1081.2C538.7,1083.2 538.3,1081.7 545.0,1090.0C551.7,1098.3 550.3,1107.2 545.0,1112.5C539.7,1117.8 534.3,1112.7 525.0,1110.0C515.7,1107.3 518.0,1105.2 510.0,1102.5C502.0,1099.8 501.0,1096.7 495.0,1100.0C489.0,1103.3 491.5,1106.3 487.5,1115.0C483.5,1123.7 484.7,1127.8 480.0,1132.5C475.3,1137.2 473.5,1135.8 470.0,1132.5C466.5,1129.2 468.0,1129.3 467.0,1120.0C466.0,1110.7 464.1,1107.5 466.2,1097.5Z" fill="#fff" filter="url(#nLb)"/>
<path d="M542.5,1112.5C544.2,1109.0 548.2,1108.6 548.8,1115.0C549.3,1121.4 547.0,1131.2 545.0,1140.0C543.0,1148.8 541.6,1150.2 540.0,1152.5C538.4,1154.8 537.7,1155.2 538.0,1150.0C538.3,1144.8 540.2,1138.8 541.2,1130.0C542.3,1121.2 540.8,1116.0 542.5,1112.5Z" fill="#000" filter="url(#nDb)"/>
<path d="M542.5,1112.5C544.2,1109.0 548.2,1108.6 548.8,1115.0C549.3,1121.4 547.0,1131.2 545.0,1140.0C543.0,1148.8 541.6,1150.2 540.0,1152.5C538.4,1154.8 537.7,1155.2 538.0,1150.0C538.3,1144.8 540.2,1138.8 541.2,1130.0C542.3,1121.2 540.8,1116.0 542.5,1112.5Z" fill="#fff" filter="url(#nLb)"/>
<path d="M545.0,1090.0C562.5,1083.6 587.3,1086.2 620.0,1085.0C652.7,1083.8 662.8,1081.8 685.0,1085.0C707.2,1088.2 699.8,1095.0 715.0,1098.8C730.2,1102.5 737.2,1103.3 750.0,1101.2C762.8,1099.2 763.9,1092.3 770.0,1090.0C776.1,1087.7 772.8,1085.4 776.2,1091.2C779.8,1097.1 782.4,1106.5 785.0,1115.0C787.6,1123.5 788.7,1119.9 787.5,1127.5C786.3,1135.1 786.4,1141.4 780.0,1147.5C773.6,1153.6 782.2,1152.3 760.0,1153.8C737.8,1155.2 703.1,1157.0 685.0,1153.8C666.9,1150.5 685.4,1147.3 682.5,1140.0C679.6,1132.7 678.3,1129.5 672.5,1122.5C666.7,1115.5 663.9,1110.0 657.5,1110.0C651.1,1110.0 649.1,1115.5 645.0,1122.5C640.9,1129.5 642.3,1133.6 640.0,1140.0C637.7,1146.4 642.0,1147.1 635.0,1150.0C628.0,1152.9 619.9,1151.3 610.0,1152.5C600.1,1153.7 597.2,1157.9 592.5,1155.0C587.8,1152.1 592.3,1147.6 590.0,1140.0C587.7,1132.4 587.8,1129.2 582.5,1122.5C577.2,1115.8 576.2,1113.6 567.5,1111.2C558.8,1108.9 550.2,1117.5 545.0,1112.5C539.8,1107.5 527.5,1096.4 545.0,1090.0Z" fill="#000" filter="url(#nDb)"/>
<path d="M545.0,1090.0C562.5,1083.6 587.3,1086.2 620.0,1085.0C652.7,1083.8 662.8,1081.8 685.0,1085.0C707.2,1088.2 699.8,1095.0 715.0,1098.8C730.2,1102.5 737.2,1103.3 750.0,1101.2C762.8,1099.2 763.9,1092.3 770.0,1090.0C776.1,1087.7 772.8,1085.4 776.2,1091.2C779.8,1097.1 782.4,1106.5 785.0,1115.0C787.6,1123.5 788.7,1119.9 787.5,1127.5C786.3,1135.1 786.4,1141.4 780.0,1147.5C773.6,1153.6 782.2,1152.3 760.0,1153.8C737.8,1155.2 703.1,1157.0 685.0,1153.8C666.9,1150.5 685.4,1147.3 682.5,1140.0C679.6,1132.7 678.3,1129.5 672.5,1122.5C666.7,1115.5 663.9,1110.0 657.5,1110.0C651.1,1110.0 649.1,1115.5 645.0,1122.5C640.9,1129.5 642.3,1133.6 640.0,1140.0C637.7,1146.4 642.0,1147.1 635.0,1150.0C628.0,1152.9 619.9,1151.3 610.0,1152.5C600.1,1153.7 597.2,1157.9 592.5,1155.0C587.8,1152.1 592.3,1147.6 590.0,1140.0C587.7,1132.4 587.8,1129.2 582.5,1122.5C577.2,1115.8 576.2,1113.6 567.5,1111.2C558.8,1108.9 550.2,1117.5 545.0,1112.5C539.8,1107.5 527.5,1096.4 545.0,1090.0Z" fill="#fff" filter="url(#nLb)"/>
<path d="M837.0,1083.8C845.0,1080.8 862.3,1075.2 870.0,1082.5C877.7,1089.8 875.0,1107.6 870.0,1115.0C865.0,1122.4 855.9,1115.5 848.8,1114.2C841.6,1113.0 842.5,1114.0 839.5,1109.5C836.5,1105.0 836.3,1101.0 835.8,1095.0C835.2,1089.0 829.0,1086.7 837.0,1083.8Z" fill="#000" filter="url(#nDb)"/>
<path d="M837.0,1083.8C845.0,1080.8 862.3,1075.2 870.0,1082.5C877.7,1089.8 875.0,1107.6 870.0,1115.0C865.0,1122.4 855.9,1115.5 848.8,1114.2C841.6,1113.0 842.5,1114.0 839.5,1109.5C836.5,1105.0 836.3,1101.0 835.8,1095.0C835.2,1089.0 829.0,1086.7 837.0,1083.8Z" fill="#fff" filter="url(#nLb)"/>
<path d="M835.8,1122.0C839.2,1117.0 840.8,1119.1 848.8,1118.5C856.7,1117.9 865.0,1111.0 870.0,1119.5C875.0,1128.0 877.7,1147.0 870.0,1155.0C862.3,1163.0 845.4,1157.2 837.0,1153.8C828.6,1150.2 834.3,1147.4 834.0,1140.0C833.7,1132.6 832.3,1127.0 835.8,1122.0Z" fill="#000" filter="url(#nDb)"/>
<path d="M835.8,1122.0C839.2,1117.0 840.8,1119.1 848.8,1118.5C856.7,1117.9 865.0,1111.0 870.0,1119.5C875.0,1128.0 877.7,1147.0 870.0,1155.0C862.3,1163.0 845.4,1157.2 837.0,1153.8C828.6,1150.2 834.3,1147.4 834.0,1140.0C833.7,1132.6 832.3,1127.0 835.8,1122.0Z" fill="#fff" filter="url(#nLb)"/>
<polygon points="115.0,1080.0 500.0,1078.0 878.6,1077.0 878.6,1159.0 500.0,1160.0 115.0,1162.3" fill="none" stroke="rgb(110,110,110)" stroke-width="4" opacity="0.5" filter="url(#b1)"/>
</g></g>
</g></g>
<g clip-path="url(#cpb3)"><g filter="url(#vir)">
<rect x="105.0" y="1170.2" width="783.6" height="202.5999999999999" fill="rgb(177,177,177)"/>
<rect x="135.0" y="1200.2" width="723.6" height="142.5999999999999" fill="#fff" filter="url(#nF)"/>
<rect x="135.0" y="1200.2" width="723.6" height="142.5999999999999" fill="#000" filter="url(#nFd)"/>
<g filter="url(#bandf)"><g clip-path="url(#bcb3)">
<polygon points="115.0,1236.0 500.0,1231.4 878.6,1230.5 878.6,1313.0 500.0,1313.0 115.0,1318.5" fill="url(#g63)"/>
<rect x="757" y="1228" width="67" height="88" fill="url(#g41)" filter="url(#bx4)"/>
<ellipse cx="789.5" cy="1268.5" rx="22" ry="12" fill="url(#g42)" transform="rotate(8 789.5 1268.5)"/>
<path d="M100.0,1239.0C166.7,1225.5 395.5,1234.6 500.0,1234.0C604.5,1233.4 684.4,1234.6 726.8,1235.1C769.2,1235.6 748.2,1233.6 754.5,1237.0C760.8,1240.4 763.6,1249.9 764.5,1255.5C765.4,1261.0 760.1,1265.1 760.1,1270.3C760.1,1275.5 765.2,1280.8 764.5,1286.9C763.8,1293.1 761.9,1303.3 755.6,1307.3C749.3,1311.3 769.4,1310.5 726.8,1311.0C684.2,1311.4 604.5,1309.3 500.0,1310.0C395.5,1310.7 166.7,1326.8 100.0,1315.0C33.3,1303.2 33.3,1252.5 100.0,1239.0Z" fill="rgb(74,74,74)" filter="url(#b1_5)"/>
<path d="M814.8,1240.7C819.0,1234.7 817.2,1236.2 830.4,1235.1C843.5,1234.1 861.6,1218.6 871.1,1236.3C880.6,1254.0 880.6,1293.3 871.1,1311.0C861.6,1328.7 843.1,1313.8 830.4,1312.1C817.6,1310.4 820.4,1309.0 816.3,1303.6C812.2,1298.2 812.8,1295.7 812.6,1288.8C812.4,1281.9 815.6,1280.5 815.6,1274.0C815.6,1267.5 812.8,1268.8 812.6,1261.0C812.4,1253.3 810.7,1246.7 814.8,1240.7Z" fill="rgb(74,74,74)" filter="url(#b1_5)"/>
<ellipse cx="170.69552349241584" cy="1246.2449130595635" rx="20.3" ry="13.049999999999999" fill="url(#g43)"/>
<ellipse cx="222.48982611912692" cy="1272.1420643729189" rx="27.55" ry="17.4" fill="url(#g44)"/>
<ellipse cx="152.19755826859046" cy="1290.6400295967444" rx="18.849999999999998" ry="13.049999999999999" fill="url(#g45)"/>
<ellipse cx="318.6792452830189" cy="1268.442471328154" rx="20.3" ry="17.4" fill="url(#g46)"/>
<ellipse cx="350.12578616352204" cy="1249.9445061043284" rx="14.5" ry="14.5" fill="url(#g47)"/>
<ellipse cx="259.4857565667777" cy="1305.4384017758048" rx="20.3" ry="10.15" fill="url(#g48)"/>
<ellipse cx="335.3274139844617" cy="1307.2881982981871" rx="18.849999999999998" ry="10.15" fill="url(#g49)"/>
<ellipse cx="425.9674435812061" cy="1277.6914539400666" rx="18.849999999999998" ry="11.6" fill="url(#g50)"/>
<ellipse cx="483.31113577506477" cy="1255.4938956714761" rx="15.95" ry="14.5" fill="url(#g51)"/>
<ellipse cx="494.40991490936" cy="1292.489826119127" rx="13.049999999999999" ry="17.4" fill="url(#g52)"/>
<ellipse cx="189.19348871624123" cy="1259.1934887162413" rx="8.7" ry="20.3" fill="url(#g53)" transform="rotate(-30 189.19348871624123 1259.1934887162413)"/>
<ellipse cx="285.3829078801332" cy="1285.0906400295967" rx="8.7" ry="20.3" fill="url(#g54)" transform="rotate(30 285.3829078801332 1285.0906400295967)"/>
<ellipse cx="388.97151313355533" cy="1292.489826119127" rx="20.3" ry="8.7" fill="url(#g55)"/>
<ellipse cx="495.5493895671476" cy="1248.094709581946" rx="14.5" ry="17.4" fill="url(#g56)"/>
<ellipse cx="519.5967443581206" cy="1299.889012208657" rx="18.849999999999998" ry="13.049999999999999" fill="url(#g57)"/>
<ellipse cx="541.7943026267111" cy="1270.2922678505365" rx="15.95" ry="13.049999999999999" fill="url(#g58)"/>
<ellipse cx="612.0865704772475" cy="1272.1420643729189" rx="20.3" ry="8.7" fill="url(#g59)" transform="rotate(35 612.0865704772475 1272.1420643729189)"/>
<ellipse cx="682.378838327784" cy="1266.5926748057714" rx="43.5" ry="10.15" fill="url(#g60)"/>
<ellipse cx="582.4898261191269" cy="1244.395116537181" rx="20.3" ry="8.7" fill="url(#g61)"/>
<ellipse cx="845.1609322974473" cy="1292.489826119127" rx="13.049999999999999" ry="14.5" fill="url(#g62)"/>
<path d="M100.0,1239.0C166.7,1225.5 395.5,1234.6 500.0,1234.0C604.5,1233.4 684.4,1234.6 726.8,1235.1C769.2,1235.6 748.2,1233.6 754.5,1237.0C760.8,1240.4 763.6,1249.9 764.5,1255.5C765.4,1261.0 760.1,1265.1 760.1,1270.3C760.1,1275.5 765.2,1280.8 764.5,1286.9C763.8,1293.1 761.9,1303.3 755.6,1307.3C749.3,1311.3 769.4,1310.5 726.8,1311.0C684.2,1311.4 604.5,1309.3 500.0,1310.0C395.5,1310.7 166.7,1326.8 100.0,1315.0C33.3,1303.2 33.3,1252.5 100.0,1239.0Z" fill="#000" filter="url(#nDd)"/>
<path d="M100.0,1239.0C166.7,1225.5 395.5,1234.6 500.0,1234.0C604.5,1233.4 684.4,1234.6 726.8,1235.1C769.2,1235.6 748.2,1233.6 754.5,1237.0C760.8,1240.4 763.6,1249.9 764.5,1255.5C765.4,1261.0 760.1,1265.1 760.1,1270.3C760.1,1275.5 765.2,1280.8 764.5,1286.9C763.8,1293.1 761.9,1303.3 755.6,1307.3C749.3,1311.3 769.4,1310.5 726.8,1311.0C684.2,1311.4 604.5,1309.3 500.0,1310.0C395.5,1310.7 166.7,1326.8 100.0,1315.0C33.3,1303.2 33.3,1252.5 100.0,1239.0Z" fill="#fff" filter="url(#nLd)"/>
<path d="M814.8,1240.7C819.0,1234.7 817.2,1236.2 830.4,1235.1C843.5,1234.1 861.6,1218.6 871.1,1236.3C880.6,1254.0 880.6,1293.3 871.1,1311.0C861.6,1328.7 843.1,1313.8 830.4,1312.1C817.6,1310.4 820.4,1309.0 816.3,1303.6C812.2,1298.2 812.8,1295.7 812.6,1288.8C812.4,1281.9 815.6,1280.5 815.6,1274.0C815.6,1267.5 812.8,1268.8 812.6,1261.0C812.4,1253.3 810.7,1246.7 814.8,1240.7Z" fill="#000" filter="url(#nDd)"/>
<path d="M814.8,1240.7C819.0,1234.7 817.2,1236.2 830.4,1235.1C843.5,1234.1 861.6,1218.6 871.1,1236.3C880.6,1254.0 880.6,1293.3 871.1,1311.0C861.6,1328.7 843.1,1313.8 830.4,1312.1C817.6,1310.4 820.4,1309.0 816.3,1303.6C812.2,1298.2 812.8,1295.7 812.6,1288.8C812.4,1281.9 815.6,1280.5 815.6,1274.0C815.6,1267.5 812.8,1268.8 812.6,1261.0C812.4,1253.3 810.7,1246.7 814.8,1240.7Z" fill="#fff" filter="url(#nLd)"/>
<polygon points="115.0,1236.0 500.0,1231.4 878.6,1230.5 878.6,1313.0 500.0,1313.0 115.0,1318.5" fill="none" stroke="rgb(110,110,110)" stroke-width="9" opacity="0.6" filter="url(#b1)"/>
</g></g>
</g></g>
<g clip-path="url(#cpb4)"><g filter="url(#vir)">
<rect x="105.0" y="1325.5" width="783.6" height="205.70000000000005" fill="rgb(177,177,177)"/>
<rect x="135.0" y="1355.5" width="723.6" height="145.70000000000005" fill="#fff" filter="url(#nF)"/>
<rect x="135.0" y="1355.5" width="723.6" height="145.70000000000005" fill="#000" filter="url(#nFd)"/>
<g filter="url(#bandf)"><g clip-path="url(#bcb4)">
<polygon points="115.0,1390.5 878.6,1389.0 878.6,1466.0 115.0,1467.0" fill="url(#g64)"/>
<polygon points="115.0,1396.5 878.6,1395.0 878.6,1460.0 115.0,1461.0" fill="#000" filter="url(#nDe)"/>
<polygon points="115.0,1396.5 878.6,1395.0 878.6,1460.0 115.0,1461.0" fill="#fff" filter="url(#nLe)"/>
<polygon points="115.0,1390.5 878.6,1389.0 878.6,1466.0 115.0,1467.0" fill="none" stroke="rgb(110,110,110)" stroke-width="9" opacity="0.5" filter="url(#b1)"/>
</g></g>
</g></g>
<rect x="135.0" y="95.6" width="723.6" height="119.4" fill="none" stroke="#000" stroke-width="2.2"/>
<line x1="127.0" y1="215.0" x2="135.0" y2="215.0" stroke="#000" stroke-width="2.2"/>
<text x="117.6" y="230.4" text-anchor="end" font-size="44">0</text>
<line x1="127.0" y1="173.6" x2="135.0" y2="173.6" stroke="#000" stroke-width="2.2"/>
<text x="117.6" y="189.0" text-anchor="end" font-size="44">100</text>
<line x1="127.0" y1="132.2" x2="135.0" y2="132.2" stroke="#000" stroke-width="2.2"/>
<text x="117.6" y="147.6" text-anchor="end" font-size="44">200</text>
<line x1="135.0" y1="215.0" x2="135.0" y2="223.0" stroke="#000" stroke-width="2.2"/>
<line x1="259.0" y1="215.0" x2="259.0" y2="223.0" stroke="#000" stroke-width="2.2"/>
<line x1="383.0" y1="215.0" x2="383.0" y2="223.0" stroke="#000" stroke-width="2.2"/>
<line x1="507.0" y1="215.0" x2="507.0" y2="223.0" stroke="#000" stroke-width="2.2"/>
<line x1="631.0" y1="215.0" x2="631.0" y2="223.0" stroke="#000" stroke-width="2.2"/>
<line x1="755.0" y1="215.0" x2="755.0" y2="223.0" stroke="#000" stroke-width="2.2"/>
<rect x="135.0" y="227.3" width="723.6" height="119.39999999999998" fill="none" stroke="#000" stroke-width="2.2"/>
<line x1="127.0" y1="346.7" x2="135.0" y2="346.7" stroke="#000" stroke-width="2.2"/>
<text x="117.6" y="362.1" text-anchor="end" font-size="44">0</text>
<line x1="127.0" y1="305.3" x2="135.0" y2="305.3" stroke="#000" stroke-width="2.2"/>
<text x="117.6" y="320.7" text-anchor="end" font-size="44">100</text>
<line x1="127.0" y1="263.9" x2="135.0" y2="263.9" stroke="#000" stroke-width="2.2"/>
<text x="117.6" y="279.3" text-anchor="end" font-size="44">200</text>
<line x1="135.0" y1="346.7" x2="135.0" y2="354.7" stroke="#000" stroke-width="2.2"/>
<line x1="259.0" y1="346.7" x2="259.0" y2="354.7" stroke="#000" stroke-width="2.2"/>
<line x1="383.0" y1="346.7" x2="383.0" y2="354.7" stroke="#000" stroke-width="2.2"/>
<line x1="507.0" y1="346.7" x2="507.0" y2="354.7" stroke="#000" stroke-width="2.2"/>
<line x1="631.0" y1="346.7" x2="631.0" y2="354.7" stroke="#000" stroke-width="2.2"/>
<line x1="755.0" y1="346.7" x2="755.0" y2="354.7" stroke="#000" stroke-width="2.2"/>
<rect x="135.0" y="359.0" width="723.6" height="119.30000000000001" fill="none" stroke="#000" stroke-width="2.2"/>
<line x1="127.0" y1="478.3" x2="135.0" y2="478.3" stroke="#000" stroke-width="2.2"/>
<text x="117.6" y="493.7" text-anchor="end" font-size="44">0</text>
<line x1="127.0" y1="436.9" x2="135.0" y2="436.9" stroke="#000" stroke-width="2.2"/>
<text x="117.6" y="452.3" text-anchor="end" font-size="44">100</text>
<line x1="127.0" y1="395.5" x2="135.0" y2="395.5" stroke="#000" stroke-width="2.2"/>
<text x="117.6" y="410.9" text-anchor="end" font-size="44">200</text>
<line x1="135.0" y1="478.3" x2="135.0" y2="486.3" stroke="#000" stroke-width="2.2"/>
<line x1="259.0" y1="478.3" x2="259.0" y2="486.3" stroke="#000" stroke-width="2.2"/>
<line x1="383.0" y1="478.3" x2="383.0" y2="486.3" stroke="#000" stroke-width="2.2"/>
<line x1="507.0" y1="478.3" x2="507.0" y2="486.3" stroke="#000" stroke-width="2.2"/>
<line x1="631.0" y1="478.3" x2="631.0" y2="486.3" stroke="#000" stroke-width="2.2"/>
<line x1="755.0" y1="478.3" x2="755.0" y2="486.3" stroke="#000" stroke-width="2.2"/>
<rect x="135.0" y="490.6" width="723.6" height="119.39999999999998" fill="none" stroke="#000" stroke-width="2.2"/>
<line x1="127.0" y1="610.0" x2="135.0" y2="610.0" stroke="#000" stroke-width="2.2"/>
<text x="117.6" y="625.4" text-anchor="end" font-size="44">0</text>
<line x1="127.0" y1="568.6" x2="135.0" y2="568.6" stroke="#000" stroke-width="2.2"/>
<text x="117.6" y="584.0" text-anchor="end" font-size="44">100</text>
<line x1="127.0" y1="527.2" x2="135.0" y2="527.2" stroke="#000" stroke-width="2.2"/>
<text x="117.6" y="542.6" text-anchor="end" font-size="44">200</text>
<line x1="135.0" y1="610.0" x2="135.0" y2="618.0" stroke="#000" stroke-width="2.2"/>
<text x="135.3" y="658.2" text-anchor="middle" font-size="44">0</text>
<line x1="259.0" y1="610.0" x2="259.0" y2="618.0" stroke="#000" stroke-width="2.2"/>
<text x="259.3" y="658.2" text-anchor="middle" font-size="44">300</text>
<line x1="383.0" y1="610.0" x2="383.0" y2="618.0" stroke="#000" stroke-width="2.2"/>
<text x="383.3" y="658.2" text-anchor="middle" font-size="44">600</text>
<line x1="507.0" y1="610.0" x2="507.0" y2="618.0" stroke="#000" stroke-width="2.2"/>
<text x="507.3" y="658.2" text-anchor="middle" font-size="44">900</text>
<line x1="631.0" y1="610.0" x2="631.0" y2="618.0" stroke="#000" stroke-width="2.2"/>
<text x="631.3" y="658.2" text-anchor="middle" font-size="44">1200</text>
<line x1="755.0" y1="610.0" x2="755.0" y2="618.0" stroke="#000" stroke-width="2.2"/>
<text x="755.3" y="658.2" text-anchor="middle" font-size="44">1500</text>
<rect x="875.8" y="95.6" width="34.9" height="514.4" fill="url(#g65)" stroke="#000" stroke-width="2"/>
<line x1="910.7" y1="111.5" x2="919" y2="111.5" stroke="#000" stroke-width="2"/>
<text x="997.6" y="126.9" text-anchor="end" font-size="44">10</text>
<line x1="910.7" y1="193.2" x2="919" y2="193.2" stroke="#000" stroke-width="2"/>
<text x="997.6" y="208.6" text-anchor="end" font-size="44">0</text>
<line x1="910.7" y1="274.9" x2="919" y2="274.9" stroke="#000" stroke-width="2"/>
<text x="997.6" y="290.3" text-anchor="end" font-size="44">−10</text>
<line x1="910.7" y1="356.6" x2="919" y2="356.6" stroke="#000" stroke-width="2"/>
<text x="997.6" y="372.0" text-anchor="end" font-size="44">−20</text>
<line x1="910.7" y1="438.3" x2="919" y2="438.3" stroke="#000" stroke-width="2"/>
<text x="997.6" y="453.7" text-anchor="end" font-size="44">−30</text>
<line x1="910.7" y1="520.0" x2="919" y2="520.0" stroke="#000" stroke-width="2"/>
<text x="997.6" y="535.4" text-anchor="end" font-size="44">−40</text>
<line x1="910.7" y1="601.7" x2="919" y2="601.7" stroke="#000" stroke-width="2"/>
<text x="997.6" y="617.1" text-anchor="end" font-size="44">−50</text>
<rect x="135.0" y="888.0" width="723.6" height="143.0999999999999" fill="none" stroke="#000" stroke-width="2.2"/>
<line x1="127.0" y1="1031.1" x2="135.0" y2="1031.1" stroke="#000" stroke-width="2.2"/>
<text x="117.6" y="1046.5" text-anchor="end" font-size="44">0</text>
<line x1="127.0" y1="969.4" x2="135.0" y2="969.4" stroke="#000" stroke-width="2.2"/>
<text x="117.6" y="984.8" text-anchor="end" font-size="44">150</text>
<line x1="127.0" y1="907.7" x2="135.0" y2="907.7" stroke="#000" stroke-width="2.2"/>
<text x="117.6" y="923.1" text-anchor="end" font-size="44">300</text>
<line x1="135.0" y1="1031.1" x2="135.0" y2="1039.1" stroke="#000" stroke-width="2.2"/>
<line x1="259.0" y1="1031.1" x2="259.0" y2="1039.1" stroke="#000" stroke-width="2.2"/>
<line x1="383.0" y1="1031.1" x2="383.0" y2="1039.1" stroke="#000" stroke-width="2.2"/>
<line x1="507.0" y1="1031.1" x2="507.0" y2="1039.1" stroke="#000" stroke-width="2.2"/>
<line x1="631.0" y1="1031.1" x2="631.0" y2="1039.1" stroke="#000" stroke-width="2.2"/>
<line x1="755.0" y1="1031.1" x2="755.0" y2="1039.1" stroke="#000" stroke-width="2.2"/>
<rect x="135.0" y="1043.3" width="723.6" height="143.9000000000001" fill="none" stroke="#000" stroke-width="2.2"/>
<line x1="127.0" y1="1187.2" x2="135.0" y2="1187.2" stroke="#000" stroke-width="2.2"/>
<text x="117.6" y="1202.6" text-anchor="end" font-size="44">0</text>
<line x1="127.0" y1="1125.5" x2="135.0" y2="1125.5" stroke="#000" stroke-width="2.2"/>
<text x="117.6" y="1140.9" text-anchor="end" font-size="44">150</text>
<line x1="127.0" y1="1063.8" x2="135.0" y2="1063.8" stroke="#000" stroke-width="2.2"/>
<text x="117.6" y="1079.2" text-anchor="end" font-size="44">300</text>
<line x1="135.0" y1="1187.2" x2="135.0" y2="1195.2" stroke="#000" stroke-width="2.2"/>
<line x1="259.0" y1="1187.2" x2="259.0" y2="1195.2" stroke="#000" stroke-width="2.2"/>
<line x1="383.0" y1="1187.2" x2="383.0" y2="1195.2" stroke="#000" stroke-width="2.2"/>
<line x1="507.0" y1="1187.2" x2="507.0" y2="1195.2" stroke="#000" stroke-width="2.2"/>
<line x1="631.0" y1="1187.2" x2="631.0" y2="1195.2" stroke="#000" stroke-width="2.2"/>
<line x1="755.0" y1="1187.2" x2="755.0" y2="1195.2" stroke="#000" stroke-width="2.2"/>
<rect x="135.0" y="1200.2" width="723.6" height="142.5999999999999" fill="none" stroke="#000" stroke-width="2.2"/>
<line x1="127.0" y1="1342.8" x2="135.0" y2="1342.8" stroke="#000" stroke-width="2.2"/>
<text x="117.6" y="1358.2" text-anchor="end" font-size="44">0</text>
<line x1="127.0" y1="1281.1" x2="135.0" y2="1281.1" stroke="#000" stroke-width="2.2"/>
<text x="117.6" y="1296.5" text-anchor="end" font-size="44">150</text>
<line x1="127.0" y1="1219.4" x2="135.0" y2="1219.4" stroke="#000" stroke-width="2.2"/>
<text x="117.6" y="1234.8" text-anchor="end" font-size="44">300</text>
<line x1="135.0" y1="1342.8" x2="135.0" y2="1350.8" stroke="#000" stroke-width="2.2"/>
<line x1="259.0" y1="1342.8" x2="259.0" y2="1350.8" stroke="#000" stroke-width="2.2"/>
<line x1="383.0" y1="1342.8" x2="383.0" y2="1350.8" stroke="#000" stroke-width="2.2"/>
<line x1="507.0" y1="1342.8" x2="507.0" y2="1350.8" stroke="#000" stroke-width="2.2"/>
<line x1="631.0" y1="1342.8" x2="631.0" y2="1350.8" stroke="#000" stroke-width="2.2"/>
<line x1="755.0" y1="1342.8" x2="755.0" y2="1350.8" stroke="#000" stroke-width="2.2"/>
<rect x="135.0" y="1355.5" width="723.6" height="145.70000000000005" fill="none" stroke="#000" stroke-width="2.2"/>
<line x1="127.0" y1="1501.2" x2="135.0" y2="1501.2" stroke="#000" stroke-width="2.2"/>
<text x="117.6" y="1516.6" text-anchor="end" font-size="44">0</text>
<line x1="127.0" y1="1439.5" x2="135.0" y2="1439.5" stroke="#000" stroke-width="2.2"/>
<text x="117.6" y="1454.9" text-anchor="end" font-size="44">150</text>
<line x1="127.0" y1="1377.8" x2="135.0" y2="1377.8" stroke="#000" stroke-width="2.2"/>
<text x="117.6" y="1393.2" text-anchor="end" font-size="44">300</text>
<line x1="135.0" y1="1501.2" x2="135.0" y2="1509.2" stroke="#000" stroke-width="2.2"/>
<text x="135.3" y="1549.4" text-anchor="middle" font-size="44">0</text>
<line x1="259.0" y1="1501.2" x2="259.0" y2="1509.2" stroke="#000" stroke-width="2.2"/>
<text x="259.3" y="1549.4" text-anchor="middle" font-size="44">300</text>
<line x1="383.0" y1="1501.2" x2="383.0" y2="1509.2" stroke="#000" stroke-width="2.2"/>
<text x="383.3" y="1549.4" text-anchor="middle" font-size="44">600</text>
<line x1="507.0" y1="1501.2" x2="507.0" y2="1509.2" stroke="#000" stroke-width="2.2"/>
<text x="507.3" y="1549.4" text-anchor="middle" font-size="44">900</text>
<line x1="631.0" y1="1501.2" x2="631.0" y2="1509.2" stroke="#000" stroke-width="2.2"/>
<text x="631.3" y="1549.4" text-anchor="middle" font-size="44">1200</text>
<line x1="755.0" y1="1501.2" x2="755.0" y2="1509.2" stroke="#000" stroke-width="2.2"/>
<text x="755.3" y="1549.4" text-anchor="middle" font-size="44">1500</text>
<rect x="875.8" y="888.0" width="34.9" height="613.2" fill="url(#g66)" stroke="#000" stroke-width="2"/>
<line x1="910.7" y1="953.0" x2="919" y2="953.0" stroke="#000" stroke-width="2"/>
<text x="997.6" y="968.4" text-anchor="end" font-size="44">15</text>
<line x1="910.7" y1="1062.5" x2="919" y2="1062.5" stroke="#000" stroke-width="2"/>
<text x="997.6" y="1077.9" text-anchor="end" font-size="44">5</text>
<line x1="910.7" y1="1172.0" x2="919" y2="1172.0" stroke="#000" stroke-width="2"/>
<text x="997.6" y="1187.4" text-anchor="end" font-size="44">−5</text>
<line x1="910.7" y1="1281.5" x2="919" y2="1281.5" stroke="#000" stroke-width="2"/>
<text x="997.6" y="1296.9" text-anchor="end" font-size="44">−15</text>
<line x1="910.7" y1="1391.0" x2="919" y2="1391.0" stroke="#000" stroke-width="2"/>
<text x="997.6" y="1406.4" text-anchor="end" font-size="44">−25</text>
<line x1="910.7" y1="1500.5" x2="919" y2="1500.5" stroke="#000" stroke-width="2"/>
<text x="997.6" y="1515.9" text-anchor="end" font-size="44">−35</text>
<text x="196.4" y="60.8" font-size="46.8">100 nm width , t<tspan font-size="31" dx="10.3" dy="7.5">growth</tspan><tspan dx="6.7" dy="-7.5">=14 min</tspan></text>
<text x="196.4" y="847.8" font-size="46.8">160 nm width , t<tspan font-size="31" dx="10.3" dy="7.5">growth</tspan><tspan dx="6.7" dy="-7.5">=14 min</tspan></text>
<text x="58" y="33" font-size="50">a)</text>
<text x="57" y="803.5" font-size="50">b)</text>
<text x="831" y="80" font-size="44.5">Z (nm)</text>
<text x="831" y="872.5" font-size="44.5">Z (nm)</text>
<text x="496.8" y="706" text-anchor="middle" font-size="44">Length (nm)</text>
<text x="496.8" y="1597.4" text-anchor="middle" font-size="44">Length (nm)</text>
<text transform="translate(34.3,353.5) rotate(-90)" text-anchor="middle" font-size="44">Width (nm)</text>
<text transform="translate(34.3,1194.5) rotate(-90)" text-anchor="middle" font-size="44">Width (nm)</text>
</svg>
</body></html>
